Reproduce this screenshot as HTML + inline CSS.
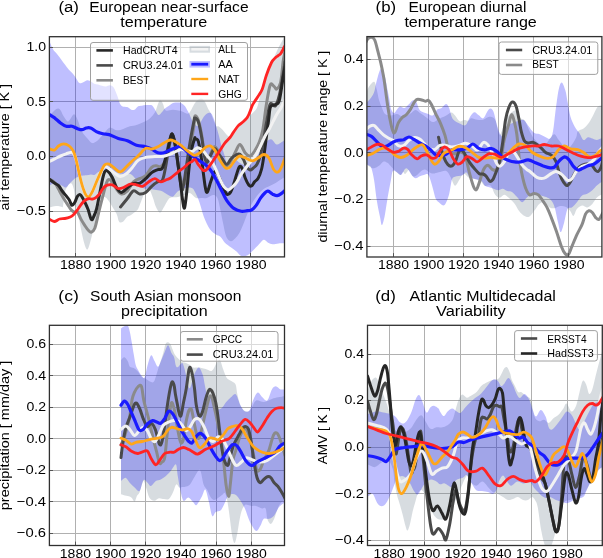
<!DOCTYPE html>
<html><head><meta charset="utf-8"><style>
html,body{margin:0;padding:0;background:#fff;width:603px;height:558px;overflow:hidden}
svg{display:block}
text{filter:grayscale(1)}
</style></head><body>
<svg width="603" height="558" viewBox="0 0 603 558" font-family='"Liberation Sans", sans-serif'><clipPath id="clipa"><rect x="49.4" y="36.7" width="235.1" height="219.9"/></clipPath>
<path d="M75.5 36.7V256.6M110.5 36.7V256.6M145.5 36.7V256.6M180.5 36.7V256.6M215.5 36.7V256.6M250.5 36.7V256.6M49.4 47.5H284.5M49.4 101.5H284.5M49.4 156.5H284.5M49.4 211.5H284.5" stroke="#b0b0b0" stroke-width="1" fill="none"/>
<g clip-path="url(#clipa)">
<path d="M49.0 116.0C49.5 115.5 51.0 114.0 52.0 113.0C53.0 112.0 54.0 110.7 55.0 110.0C56.0 109.3 57.3 108.4 58.3 108.6C59.3 108.8 60.2 109.8 61.0 111.0C61.8 112.2 62.2 114.0 63.3 115.8C64.4 117.5 66.5 121.0 67.7 121.5C68.9 122.0 69.4 119.9 70.5 118.7C71.6 117.5 72.9 114.1 74.1 114.3C75.3 114.5 76.4 117.1 77.7 120.0C79.0 122.9 80.3 128.5 82.0 131.6C83.7 134.7 86.0 136.8 87.7 138.7C89.4 140.6 90.6 142.5 92.0 143.0C93.4 143.5 94.9 142.5 96.3 141.6C97.7 140.7 99.1 138.9 100.6 137.3C102.0 135.8 103.4 133.9 105.0 132.3C106.6 130.7 108.1 127.9 110.0 127.6C111.9 127.3 114.4 130.1 116.6 130.3C118.8 130.5 121.1 129.7 123.3 129.0C125.5 128.3 127.7 127.0 129.9 126.3C132.1 125.6 134.3 125.7 136.5 125.0C138.7 124.3 141.0 123.4 143.2 122.3C145.4 121.2 147.8 120.1 149.8 118.4C151.8 116.7 153.7 114.4 155.1 112.0C156.5 109.6 157.1 106.0 158.0 104.0C158.9 102.0 159.6 99.8 160.4 99.8C161.2 99.8 162.1 102.2 163.0 104.0C163.9 105.8 164.0 109.4 165.7 110.4C167.4 111.4 170.4 109.7 173.0 109.8C175.6 109.9 178.5 110.3 181.0 111.0C183.5 111.7 186.2 113.8 187.8 113.8C189.4 113.8 189.2 113.1 190.5 111.1C191.8 109.1 194.1 103.8 195.9 101.7C197.7 99.6 199.7 98.3 201.3 98.4C202.9 98.5 204.2 100.7 205.3 102.4C206.4 104.1 207.1 106.6 208.0 108.4C208.9 110.2 209.8 111.2 210.7 113.1C211.6 115.0 212.5 117.9 213.4 120.0C214.3 122.1 215.2 124.8 216.1 125.9C217.0 127.0 217.7 125.9 218.8 126.6C219.9 127.3 221.6 128.8 222.8 130.0C224.0 131.2 224.8 132.8 226.0 134.0C227.2 135.2 228.7 137.0 230.0 137.0C231.3 137.0 232.7 135.5 234.0 134.0C235.3 132.5 236.6 129.7 238.0 128.0C239.4 126.3 241.1 125.3 242.6 124.0C244.1 122.7 245.7 121.5 247.0 120.0C248.3 118.5 249.4 116.4 250.6 115.0C251.8 113.6 253.1 112.7 254.2 111.5C255.2 110.3 256.1 109.6 256.9 108.0C257.6 106.4 258.0 104.7 258.7 102.0C259.4 99.3 259.9 96.1 261.2 92.0C262.5 87.9 264.6 81.9 266.3 77.3C268.0 72.7 269.8 68.7 271.5 64.4C273.2 60.1 275.2 54.9 276.7 51.5C278.2 48.1 279.2 46.4 280.6 43.8C282.0 41.2 284.3 37.3 285.0 36.0L285.0 177.0C284.2 177.5 281.6 179.0 280.0 180.0C278.4 181.0 277.3 182.0 275.6 183.0C273.9 184.0 271.6 185.0 269.6 186.0C267.6 187.0 265.7 187.5 263.7 189.0C261.7 190.5 259.7 192.4 257.7 194.9C255.7 197.4 253.4 200.7 251.7 203.9C249.9 207.1 248.4 211.3 247.2 214.3C246.0 217.3 245.5 218.8 244.3 221.8C243.1 224.8 241.3 229.5 239.8 232.2C238.3 234.9 236.8 236.7 235.3 238.2C233.8 239.7 232.3 241.4 230.8 241.2C229.3 240.9 227.5 239.4 226.3 236.7C225.1 234.0 224.4 229.3 223.4 224.8C222.4 220.3 221.4 214.4 220.4 209.9C219.4 205.4 218.7 200.4 217.4 197.9C216.2 195.4 214.7 194.9 212.9 194.9C211.2 194.9 208.9 197.4 206.9 197.9C204.9 198.4 202.8 198.0 201.0 198.0C199.2 198.0 197.8 198.8 196.0 198.0C194.2 197.2 192.0 193.5 190.0 193.0C188.0 192.5 186.0 194.3 184.0 195.0C182.0 195.7 180.2 196.6 178.0 197.0C175.8 197.4 172.7 197.0 171.0 197.5C169.3 198.0 169.2 198.4 168.0 200.0C166.8 201.6 165.3 204.9 164.0 207.0C162.7 209.1 161.3 212.6 160.0 212.6C158.7 212.6 157.2 209.4 156.0 207.0C154.8 204.6 154.1 200.8 153.0 198.0C151.9 195.2 150.8 191.2 149.6 190.0C148.4 188.8 147.1 189.1 145.7 191.0C144.3 192.9 142.4 198.5 141.1 201.5C139.8 204.5 139.1 207.2 138.1 209.0C137.1 210.8 136.2 211.0 135.0 212.0C133.8 213.0 132.3 214.2 131.0 215.0C129.7 215.8 128.3 215.9 127.0 217.0C125.7 218.1 124.6 220.7 123.3 221.5C122.0 222.3 120.3 223.1 119.3 222.0C118.2 220.9 117.9 217.2 117.0 215.0C116.1 212.8 115.0 211.3 113.7 209.1C112.4 206.8 110.6 203.5 109.1 201.5C107.6 199.5 106.1 197.2 104.6 197.0C103.1 196.8 101.1 197.5 100.0 200.0C98.9 202.5 99.0 208.2 98.1 212.2C97.2 216.2 95.9 220.0 94.8 224.2C93.7 228.4 92.4 233.7 91.4 237.4C90.4 241.2 89.6 244.7 88.8 246.7C88.0 248.7 87.6 250.1 86.8 249.4C86.0 248.7 85.1 246.2 84.1 242.7C83.1 239.2 81.8 233.0 80.8 228.2C79.8 223.3 78.8 216.9 78.2 213.6C77.6 210.3 77.4 209.7 76.9 208.3C76.4 206.9 75.4 207.7 75.0 205.0C74.6 202.3 74.8 195.4 74.3 191.9C73.8 188.4 72.8 185.3 72.0 184.0C71.2 182.7 70.0 183.6 69.3 184.0C68.5 184.4 68.2 185.2 67.5 186.5C66.8 187.8 65.7 188.7 64.9 191.9C64.2 195.2 63.5 203.5 63.0 206.0C62.5 208.5 62.8 207.0 62.0 207.0C61.2 207.0 59.6 206.1 58.3 206.0C57.0 205.9 55.8 206.0 54.3 206.3C52.8 206.6 49.9 207.4 49.0 207.6Z" fill="#708090" fill-opacity="0.28"/>
<path d="M49.0 40.0C49.7 41.5 51.7 47.0 53.0 49.3C54.3 51.6 55.7 52.2 57.0 53.9C58.3 55.5 59.7 57.4 61.0 59.2C62.3 61.0 63.6 62.7 64.9 64.5C66.2 66.3 67.6 68.2 68.9 69.8C70.2 71.3 71.7 72.4 72.9 73.8C74.1 75.2 75.1 76.9 76.2 78.4C77.3 80.0 78.4 82.4 79.5 83.1C80.6 83.8 81.8 82.7 82.8 82.4C83.8 82.1 84.7 81.5 85.5 81.1C86.3 80.7 86.7 80.2 87.5 80.2C88.3 80.2 89.0 80.5 90.1 81.1C91.2 81.7 92.8 83.2 94.1 83.7C95.4 84.2 96.7 84.1 98.0 84.4C99.3 84.7 100.7 85.4 102.0 85.7C103.3 86.0 104.7 86.5 106.0 86.4C107.3 86.3 108.7 85.0 110.0 85.2C111.3 85.5 112.8 86.1 114.0 87.9C115.2 89.7 116.3 93.2 117.3 95.8C118.3 98.4 119.1 102.0 120.0 103.8C120.9 105.6 121.4 105.9 122.6 106.4C123.8 107.0 125.8 106.5 127.2 107.1C128.6 107.6 130.0 109.3 131.2 109.7C132.4 110.1 133.4 110.2 134.5 109.7C135.6 109.2 136.7 107.1 137.9 106.4C139.1 105.8 140.5 106.0 141.8 105.8C143.1 105.6 144.5 105.2 145.8 105.1C147.1 105.0 148.7 105.0 149.8 105.1C150.9 105.2 151.5 105.0 152.4 105.8C153.3 106.6 154.1 108.2 155.1 109.7C156.1 111.2 157.2 114.6 158.4 115.0C159.6 115.4 160.9 113.1 162.0 112.0C163.1 110.9 163.8 109.4 165.0 108.4C166.2 107.4 167.7 106.7 169.0 105.8C170.3 104.9 171.7 103.6 173.0 103.0C174.3 102.4 175.8 102.4 177.1 102.4C178.4 102.4 179.8 102.3 181.1 103.0C182.4 103.7 184.1 105.1 185.2 106.4C186.3 107.8 187.1 109.9 187.8 111.1C188.5 112.3 188.3 112.0 189.2 113.8C190.1 115.6 191.5 120.0 193.0 122.0C194.5 124.0 196.3 126.7 198.0 126.0C199.7 125.3 201.6 120.0 203.0 118.0C204.4 116.0 205.4 114.6 206.7 113.8C208.0 113.0 209.6 112.4 210.7 113.1C211.8 113.8 212.5 115.7 213.4 117.8C214.3 119.9 215.2 123.0 216.1 125.9C217.0 128.8 217.9 131.9 218.8 135.3C219.7 138.7 220.6 143.0 221.5 146.1C222.4 149.2 223.2 151.0 224.1 154.1C225.0 157.2 226.1 162.2 226.8 164.9C227.5 167.6 227.3 169.8 228.2 170.0C229.1 170.2 230.8 167.7 232.0 166.0C233.2 164.3 234.0 160.5 235.3 160.0C236.6 159.5 238.3 162.1 240.0 163.0C241.7 163.9 244.0 165.4 245.7 165.2C247.4 165.0 248.3 163.3 250.0 162.0C251.7 160.7 254.1 159.5 256.0 157.4C257.9 155.3 259.5 152.3 261.2 149.7C262.9 147.1 264.6 143.7 266.3 142.0C268.0 140.3 269.8 139.0 271.5 139.4C273.2 139.8 275.0 144.1 276.7 144.5C278.4 144.9 280.4 142.8 281.8 142.0C283.2 141.2 284.5 139.8 285.0 139.4L285.0 243.4C283.9 243.4 280.7 243.3 278.6 243.4C276.5 243.5 274.4 244.3 272.6 244.2C270.9 244.1 269.6 243.4 268.1 242.7C266.6 241.9 265.4 239.2 263.7 239.7C262.0 240.2 259.7 243.7 257.7 245.7C255.7 247.7 253.4 250.1 251.7 251.7C249.9 253.3 248.9 254.7 247.2 255.4C245.5 256.1 243.0 256.7 241.3 256.1C239.6 255.5 238.6 253.2 236.8 251.7C235.1 250.2 232.8 248.7 230.8 247.2C228.8 245.7 226.6 244.4 224.9 242.7C223.2 240.9 221.9 238.1 220.4 236.7C218.9 235.3 217.7 235.7 215.9 234.5C214.2 233.3 211.9 232.2 209.9 229.3C207.9 226.4 205.7 221.8 204.0 217.3C202.3 212.8 201.0 206.6 199.5 202.4C198.0 198.2 196.3 194.4 195.0 192.0C193.7 189.6 193.4 188.7 191.7 188.0C190.0 187.3 186.9 187.4 184.6 188.0C182.2 188.6 179.6 190.1 177.6 191.6C175.6 193.1 174.4 196.5 172.4 196.8C170.4 197.1 167.3 194.3 165.4 193.3C163.5 192.3 162.7 191.4 160.9 190.8C159.1 190.2 156.8 190.1 154.8 189.8C152.8 189.5 150.7 189.1 148.7 188.8C146.7 188.5 144.6 189.2 142.6 187.8C140.6 186.4 138.5 182.5 136.5 180.2C134.5 177.9 132.7 175.1 130.4 174.1C128.1 173.1 125.3 174.3 122.8 174.1C120.3 173.8 117.4 173.0 115.2 172.6C113.0 172.2 111.1 171.9 109.5 171.6C107.9 171.3 106.8 170.9 105.5 170.9C104.2 170.9 102.7 171.4 101.4 171.6C100.2 171.8 99.2 171.6 98.0 172.2C96.8 172.8 95.6 174.5 94.4 174.9C93.2 175.3 92.1 174.3 90.8 174.4C89.5 174.5 87.9 175.1 86.4 175.3C84.9 175.5 83.6 175.4 81.9 175.8C80.2 176.2 78.0 176.8 76.5 177.5C75.0 178.2 74.1 179.1 72.9 180.2C71.7 181.2 70.5 182.6 69.3 183.8C68.1 185.0 67.3 187.2 65.8 187.4C64.3 187.6 62.2 185.4 60.4 184.7C58.6 183.9 56.9 182.7 55.0 182.9C53.1 183.1 50.0 185.2 49.0 185.7Z" fill="#0000ff" fill-opacity="0.25"/>
</g>
<g clip-path="url(#clipa)" fill="none" stroke-linejoin="round" stroke-linecap="round">
<path d="M49.0 179.0C50.0 179.7 53.1 180.7 55.0 183.0C56.9 185.3 58.9 190.1 60.4 192.8C61.9 195.5 62.8 197.1 64.0 199.0C65.2 200.9 66.3 202.6 67.5 204.4C68.7 206.2 70.0 208.5 71.1 209.8C72.2 211.1 73.0 211.6 74.0 212.0C75.0 212.4 76.3 210.8 77.4 212.0C78.5 213.2 79.6 216.7 80.8 218.9C82.0 221.2 83.5 223.5 84.8 225.5C86.1 227.5 87.7 229.7 88.8 230.8C89.9 231.9 90.4 232.5 91.4 232.1C92.4 231.7 93.7 231.0 94.8 228.2C95.9 225.3 97.0 219.6 98.1 215.0C99.2 210.4 100.4 205.3 101.6 200.8C102.8 196.3 103.9 191.5 105.0 188.0C106.1 184.5 106.8 181.0 108.0 180.0C109.2 179.0 110.8 180.2 112.2 181.8C113.7 183.4 115.2 187.4 116.7 189.4C118.2 191.4 119.5 193.7 121.3 193.9C123.1 194.2 125.4 192.9 127.4 190.9C129.4 188.9 131.5 183.8 133.5 181.8C135.5 179.8 137.6 179.7 139.6 178.7C141.6 177.7 143.7 177.6 145.7 175.7C147.7 173.8 149.9 169.0 151.7 167.3C153.5 165.7 154.8 165.9 156.3 165.8C157.8 165.7 159.4 167.4 160.9 166.5C162.4 165.6 164.1 164.2 165.4 160.4C166.7 156.6 167.4 147.8 168.5 143.7C169.6 139.6 170.8 134.9 172.0 136.0C173.2 137.1 174.7 143.5 176.0 150.0C177.3 156.5 178.8 169.2 180.0 175.0C181.2 180.8 182.0 184.5 183.0 185.0C184.0 185.5 184.8 183.8 186.0 178.0C187.2 172.2 188.7 158.8 190.0 150.0C191.3 141.2 193.2 130.7 194.0 125.0C194.8 119.3 194.3 116.8 195.0 116.0C195.7 115.2 197.3 117.0 198.4 120.3C199.5 123.6 200.8 130.0 201.8 135.7C202.8 141.4 203.6 150.2 204.4 154.4C205.2 158.7 205.9 161.2 206.9 161.2C207.9 161.2 209.0 156.8 210.3 154.4C211.6 152.0 213.3 147.3 214.6 146.7C215.9 146.1 216.7 148.6 218.0 151.0C219.3 153.4 220.9 158.6 222.3 161.2C223.7 163.8 225.1 166.3 226.5 166.3C227.9 166.3 229.2 163.8 230.8 161.2C232.4 158.6 234.4 153.8 235.9 151.0C237.4 148.2 238.4 144.2 240.0 144.5C241.6 144.8 243.6 151.1 245.3 153.0C247.0 154.9 248.4 156.3 250.0 156.0C251.6 155.7 253.0 153.3 254.6 151.0C256.1 148.7 257.9 145.5 259.3 142.0C260.7 138.5 261.6 136.2 262.8 130.0C264.0 123.8 265.1 112.5 266.3 105.0C267.5 97.5 268.9 88.2 270.2 85.1C271.5 82.0 273.0 85.8 274.1 86.4C275.2 87.1 275.6 89.7 276.7 89.0C277.8 88.3 279.5 87.0 280.6 82.5C281.7 78.0 282.4 67.0 283.1 61.8C283.8 56.6 284.7 53.2 285.0 51.5" stroke="#8a8a8a" stroke-width="3.0"/>
<path d="M120.5 206.9C121.7 205.5 125.2 201.2 127.4 198.5C129.6 195.8 131.5 191.7 133.5 190.9C135.5 190.1 137.6 193.7 139.6 193.9C141.6 194.2 143.7 193.7 145.7 192.4C147.7 191.1 149.7 188.1 151.7 186.3C153.7 184.5 156.0 182.8 157.8 181.8C159.6 180.8 161.1 182.5 162.4 180.2C163.7 177.9 164.4 173.1 165.4 168.0C166.4 162.9 167.7 154.1 168.5 149.8C169.3 145.5 169.4 144.8 170.0 142.2C170.6 139.6 171.3 133.7 172.2 134.0C173.0 134.3 174.0 137.9 175.1 144.0C176.2 150.1 177.7 162.8 178.8 170.3C179.9 177.8 180.9 186.6 181.7 189.1C182.5 191.6 182.7 189.1 183.5 185.3C184.3 181.5 185.3 173.7 186.4 166.5C187.5 159.3 188.8 149.5 190.1 142.0C191.3 134.5 193.1 125.3 193.9 121.3C194.7 117.3 194.2 117.9 195.0 118.0C195.8 118.1 197.3 118.7 198.4 122.0C199.5 125.3 200.8 132.3 201.8 138.0C202.8 143.7 203.6 151.9 204.4 156.0C205.2 160.1 205.9 162.5 206.9 162.5C207.9 162.5 209.0 158.3 210.3 156.0C211.6 153.7 213.3 149.0 214.6 148.5C215.9 148.0 216.8 151.3 218.0 153.0C219.2 154.7 220.6 156.6 222.0 158.5C223.4 160.4 225.1 164.3 226.7 164.3C228.2 164.3 229.8 160.1 231.3 158.5C232.9 156.9 234.6 155.7 236.0 155.0C237.4 154.3 238.7 153.6 240.0 154.4C241.3 155.2 242.5 157.6 243.6 159.6C244.7 161.6 245.4 164.8 246.5 166.6C247.6 168.3 248.8 169.9 250.0 170.1C251.2 170.3 252.3 168.8 253.5 167.8C254.7 166.8 255.8 166.4 257.0 164.3C258.2 162.2 259.4 158.9 260.5 155.0C261.6 151.1 262.5 145.7 263.4 141.0C264.3 136.3 265.0 131.0 265.7 127.0C266.4 123.0 266.8 120.8 267.5 117.0C268.2 113.2 268.9 105.9 270.2 104.0C271.5 102.1 273.9 107.2 275.4 105.8C276.9 104.4 278.0 100.6 279.3 95.4C280.6 90.2 282.2 80.4 283.1 74.8C284.1 69.2 284.7 64.0 285.0 61.8" stroke="#4a4a4a" stroke-width="3.0"/>
<path d="M49.0 179.0C49.9 179.7 52.8 181.9 54.4 183.0C56.0 184.1 57.3 184.3 58.6 185.6C59.9 186.9 60.9 189.2 62.2 191.0C63.5 192.8 65.4 194.9 66.6 196.4C67.8 197.9 68.4 198.5 69.3 200.0C70.2 201.5 71.1 204.9 72.0 205.3C72.9 205.7 73.8 204.1 74.7 202.6C75.6 201.1 76.5 197.7 77.4 196.4C78.3 195.1 79.2 194.3 80.1 194.6C81.0 194.9 81.9 196.7 82.8 198.2C83.7 199.7 84.6 201.6 85.5 203.5C86.4 205.4 87.2 207.1 88.2 209.8C89.2 212.5 90.4 218.5 91.4 219.5C92.4 220.5 93.1 217.9 94.0 216.0C94.9 214.1 95.8 211.8 96.7 208.3C97.6 204.8 98.4 199.8 99.4 195.0C100.4 190.2 101.6 183.2 102.5 179.3C103.4 175.5 103.8 173.3 104.6 171.9C105.4 170.5 106.3 170.2 107.6 171.1C108.9 172.0 110.7 174.4 112.2 177.2C113.7 180.0 115.2 185.3 116.7 187.8C118.2 190.3 119.5 192.4 121.3 192.4C123.1 192.4 125.4 189.3 127.4 187.8C129.4 186.3 131.5 184.1 133.5 183.3C135.5 182.6 137.6 184.1 139.6 183.3C141.6 182.5 143.7 180.5 145.7 178.7C147.7 176.9 149.7 174.1 151.7 172.6C153.7 171.1 156.0 170.4 157.8 169.6C159.6 168.8 160.9 170.8 162.4 168.0C163.9 165.2 165.7 157.6 167.0 152.8C168.3 148.0 169.1 142.2 170.0 139.1C170.9 136.0 171.4 133.2 172.2 134.0C173.0 134.8 173.9 138.0 175.0 144.0C176.1 150.0 177.5 160.7 178.8 170.0C180.1 179.3 181.7 193.7 182.6 200.0C183.5 206.3 183.9 208.8 184.5 208.0C185.1 207.2 185.6 201.9 186.4 195.0C187.2 188.1 188.3 174.4 189.2 166.5C190.1 158.6 191.1 152.4 192.0 147.7C192.9 143.0 194.3 139.6 194.8 138.2C195.3 136.8 194.4 138.4 195.0 139.0C195.6 139.6 197.3 137.9 198.4 141.6C199.5 145.3 200.7 153.7 201.8 161.2C202.9 168.7 204.3 181.7 205.2 186.8C206.1 192.0 206.4 193.0 207.3 192.1C208.2 191.2 209.6 184.9 210.8 181.6C212.0 178.3 213.3 173.9 214.3 172.3C215.3 170.8 215.6 171.1 216.6 172.3C217.6 173.5 218.9 176.6 220.1 179.3C221.3 182.0 222.4 186.1 223.6 188.6C224.8 191.1 225.9 193.8 227.1 194.4C228.3 195.0 229.4 194.0 230.6 192.1C231.8 190.2 233.1 185.7 234.1 182.8C235.1 179.9 235.6 177.3 236.5 174.6C237.4 171.9 238.5 167.5 239.5 166.6C240.5 165.7 241.4 166.9 242.4 168.9C243.4 170.9 244.2 175.6 245.3 178.3C246.4 181.0 247.8 183.7 248.8 185.0C249.8 186.3 250.5 186.5 251.5 186.0C252.5 185.5 253.5 183.1 254.6 181.8C255.7 180.5 256.9 180.4 258.1 178.3C259.3 176.2 260.6 172.9 261.6 169.0C262.6 165.1 263.2 160.2 264.0 155.0C264.8 149.8 265.5 143.3 266.3 137.5C267.1 131.7 267.9 125.1 268.6 120.0C269.3 114.9 269.4 109.6 270.5 107.0C271.6 104.4 273.9 105.6 275.4 104.5C276.9 103.4 278.0 105.1 279.3 100.6C280.6 96.1 282.2 82.9 283.1 77.3C284.1 71.7 284.7 68.7 285.0 67.0" stroke="#262626" stroke-width="3.0"/>
<path d="M49.0 161.7C50.0 161.2 52.8 159.8 54.7 158.8C56.6 157.9 58.6 156.8 60.5 156.0C62.4 155.2 64.5 154.4 66.2 153.8C67.9 153.2 69.3 152.5 70.5 152.4C71.7 152.3 72.5 152.1 73.4 153.2C74.3 154.3 75.0 155.9 75.9 158.8C76.8 161.8 77.6 166.6 78.6 170.9C79.6 175.2 80.8 180.6 81.9 184.4C83.0 188.2 84.2 191.7 85.3 193.8C86.4 195.9 87.4 197.0 88.5 196.8C89.6 196.6 90.8 194.7 92.0 192.4C93.2 190.1 94.7 186.1 96.0 183.0C97.3 179.9 98.8 176.3 100.1 173.6C101.4 170.9 103.1 168.2 104.1 167.0C105.1 165.8 104.8 165.8 106.1 166.5C107.4 167.2 109.9 169.4 112.2 171.1C114.5 172.8 117.5 175.9 119.8 176.4C122.1 176.9 123.9 175.5 125.9 174.1C127.9 172.7 130.0 170.3 132.0 168.0C134.0 165.7 135.8 162.2 138.1 160.4C140.4 158.6 142.9 158.0 145.7 157.4C148.5 156.8 151.8 156.8 154.8 156.6C157.8 156.4 161.3 156.6 163.9 156.2C166.5 155.8 168.4 154.9 170.4 154.1C172.4 153.3 174.0 152.3 175.8 151.5C177.6 150.7 179.5 149.6 181.1 149.4C182.7 149.2 183.4 149.8 185.2 150.1C187.0 150.4 190.3 151.6 191.9 151.5C193.5 151.4 194.0 149.9 195.0 149.3C196.0 148.7 196.7 147.7 198.0 147.8C199.3 148.0 201.1 148.8 202.7 150.2C204.2 151.6 205.8 154.1 207.3 156.0C208.9 157.9 210.4 159.3 212.0 161.8C213.6 164.3 215.2 168.2 216.6 171.1C217.9 174.0 218.9 176.8 220.1 179.3C221.3 181.8 222.2 184.6 223.6 186.3C225.0 188.1 226.9 189.6 228.3 189.8C229.7 190.0 230.6 188.4 231.8 187.4C233.0 186.4 234.3 185.2 235.3 184.0C236.3 182.8 237.1 181.5 238.0 180.0C238.9 178.5 239.1 177.4 240.7 175.0C242.3 172.6 245.3 168.5 247.6 165.5C249.9 162.5 252.4 160.2 254.6 157.0C256.8 153.8 258.8 149.5 260.5 146.0C262.2 142.5 263.6 139.0 265.1 136.0C266.7 133.0 267.9 131.5 269.8 128.0C271.7 124.5 274.6 118.3 276.4 115.0C278.2 111.7 279.2 110.9 280.6 108.4C282.0 105.9 284.3 101.4 285.0 100.0" stroke="#f2f2f2" stroke-width="3.0"/>
<path d="M49.0 114.3C50.0 114.9 52.8 116.5 54.7 117.9C56.6 119.4 58.6 121.6 60.5 123.0C62.4 124.4 64.3 125.8 66.2 126.3C68.1 126.8 70.1 125.9 72.0 126.3C73.9 126.7 76.0 128.1 77.7 128.7C79.4 129.3 80.6 129.8 82.0 129.7C83.4 129.6 84.9 128.3 86.3 128.0C87.7 127.7 88.9 127.4 90.6 128.0C92.3 128.6 94.7 130.8 96.3 131.6C97.9 132.4 98.7 132.6 100.0 133.0C101.3 133.4 102.5 133.7 104.0 134.0C105.5 134.3 106.7 133.9 109.1 134.6C111.5 135.3 115.2 137.4 118.3 138.4C121.3 139.4 124.4 139.6 127.4 140.7C130.4 141.8 133.4 144.2 136.5 145.2C139.6 146.2 143.2 146.1 145.7 146.7C148.2 147.3 149.7 148.0 151.7 149.0C153.7 150.0 155.8 152.2 157.8 152.8C159.8 153.4 161.9 153.3 163.9 152.8C165.9 152.3 167.8 150.9 170.0 150.0C172.2 149.1 175.2 147.8 177.0 147.2C178.8 146.6 179.1 145.7 181.1 146.7C183.1 147.7 186.8 151.5 189.1 153.3C191.4 155.2 193.2 156.5 195.0 157.8C196.8 159.1 198.4 160.1 200.1 161.2C201.8 162.3 203.5 163.2 205.2 164.6C206.9 166.0 208.6 167.4 210.3 169.7C212.0 172.0 213.7 175.2 215.4 178.3C217.1 181.4 218.9 185.1 220.6 188.5C222.3 191.9 224.3 196.2 225.7 198.7C227.1 201.2 227.7 201.9 229.0 203.5C230.3 205.1 231.8 207.1 233.8 208.4C235.9 209.7 239.1 210.9 241.3 211.3C243.5 211.7 245.5 210.8 247.2 210.6C248.9 210.4 250.2 210.8 251.7 209.9C253.2 209.0 254.7 207.4 256.2 205.4C257.7 203.4 259.2 200.0 260.7 197.9C262.2 195.8 263.9 193.8 265.1 192.7C266.3 191.6 266.9 190.9 268.1 191.2C269.4 191.4 271.1 193.4 272.6 194.2C274.1 194.9 275.6 195.8 277.1 195.7C278.6 195.6 280.3 194.3 281.6 193.4C282.9 192.5 284.4 190.9 285.0 190.4" stroke="#1a1aff" stroke-width="3.2"/>
<path d="M49.0 148.7C49.9 148.9 52.8 150.5 54.4 150.1C56.0 149.7 56.8 147.1 58.4 146.0C60.0 144.9 62.0 143.8 63.8 143.8C65.6 143.8 67.6 144.8 69.2 146.0C70.8 147.2 72.1 148.7 73.2 150.8C74.3 152.9 75.0 155.5 75.9 158.8C76.8 162.2 77.6 166.6 78.6 170.9C79.6 175.2 80.8 180.6 81.9 184.4C83.0 188.2 84.2 191.7 85.3 193.8C86.4 195.9 87.4 197.0 88.5 196.8C89.6 196.6 90.8 194.7 92.0 192.4C93.2 190.1 94.7 186.1 96.0 183.0C97.3 179.9 98.7 176.6 100.1 173.6C101.5 170.6 103.1 166.6 104.6 165.0C106.1 163.4 107.3 163.6 109.1 164.2C110.9 164.8 113.3 167.5 115.2 168.8C117.1 170.1 118.7 172.2 120.5 171.9C122.3 171.7 124.0 169.1 125.9 167.3C127.8 165.5 130.0 163.1 132.0 161.2C134.0 159.3 135.8 158.1 138.1 155.9C140.4 153.8 143.4 149.5 145.7 148.3C148.0 147.2 149.7 149.3 151.7 149.0C153.7 148.7 155.8 147.7 157.8 146.7C159.8 145.7 161.8 144.0 163.9 142.9C166.0 141.8 168.4 140.2 170.4 140.0C172.4 139.8 174.0 141.1 175.8 142.0C177.6 142.9 179.3 144.1 181.1 145.4C182.9 146.8 184.7 148.7 186.5 150.1C188.3 151.5 190.5 153.2 191.9 154.1C193.3 155.0 193.6 155.5 195.0 155.3C196.4 155.1 198.4 154.0 200.1 152.7C201.8 151.4 203.5 148.7 205.2 147.6C206.9 146.5 208.6 145.3 210.3 145.9C212.0 146.5 213.7 148.4 215.4 151.0C217.1 153.6 218.9 158.4 220.6 161.2C222.3 164.0 224.1 167.0 225.7 168.0C227.2 169.0 228.5 168.3 229.9 167.2C231.3 166.1 232.6 163.0 234.2 161.2C235.8 159.3 237.5 156.7 239.3 156.1C241.1 155.5 242.8 157.0 245.0 157.8C247.2 158.6 250.1 160.8 252.3 160.8C254.5 160.8 256.1 159.1 258.0 158.0C259.9 156.9 262.0 154.5 263.8 154.5C265.6 154.5 267.2 155.4 268.9 158.0C270.6 160.6 272.3 167.8 274.0 170.0C275.7 172.2 277.5 173.0 279.3 171.0C281.1 169.0 284.1 160.2 285.0 158.0" stroke="#ffa619" stroke-width="2.8"/>
<path d="M49.0 219.0C49.9 219.4 52.5 221.5 54.3 221.5C56.1 221.5 57.8 219.5 59.6 219.0C61.4 218.5 63.1 218.8 64.9 218.5C66.7 218.2 68.8 217.6 70.2 217.0C71.6 216.4 72.0 216.2 73.2 215.0C74.4 213.8 76.0 211.7 77.4 209.8C78.9 207.9 80.6 205.1 81.9 203.5C83.2 201.9 84.3 200.8 85.5 200.0C86.7 199.2 87.8 198.8 89.0 198.6C90.2 198.4 91.4 199.2 92.6 199.0C93.8 198.8 95.0 198.2 96.2 197.3C97.4 196.4 98.8 195.0 99.8 193.7C100.8 192.3 101.5 190.5 102.5 189.2C103.5 187.8 104.5 186.3 106.1 185.6C107.7 184.9 110.2 184.3 112.2 184.8C114.2 185.3 116.3 188.2 118.3 188.6C120.3 189.0 122.4 187.9 124.4 187.1C126.4 186.3 128.4 184.4 130.4 184.0C132.4 183.6 134.5 184.4 136.5 184.8C138.5 185.2 140.6 186.8 142.6 186.3C144.6 185.8 146.7 183.1 148.7 181.8C150.7 180.5 152.8 178.7 154.8 178.7C156.8 178.7 158.9 181.7 160.9 181.8C162.9 181.9 165.4 180.1 167.0 179.5C168.6 178.9 168.8 179.2 170.6 178.0C172.4 176.8 175.3 174.1 177.6 172.3C179.9 170.5 182.7 168.6 184.6 167.0C186.5 165.4 187.8 163.9 189.0 163.0C190.2 162.1 190.7 162.4 191.7 161.8C192.7 161.2 193.9 159.1 195.0 159.5C196.1 159.9 196.7 162.3 198.0 164.1C199.3 165.8 201.3 169.0 202.7 170.0C204.1 171.0 204.8 171.0 206.2 170.0C207.5 169.0 209.2 166.2 210.8 164.1C212.4 161.9 213.9 159.4 215.5 157.1C217.1 154.8 218.5 152.5 220.1 150.2C221.7 147.9 223.2 145.3 224.8 143.2C226.5 141.1 228.5 139.3 230.0 137.5C231.5 135.7 232.2 134.1 233.6 132.2C234.9 130.3 236.6 127.6 238.1 125.9C239.6 124.2 241.1 123.7 242.6 122.3C244.1 120.9 245.8 119.4 247.0 117.8C248.2 116.2 248.8 114.5 249.7 112.4C250.6 110.3 251.5 107.1 252.4 105.2C253.3 103.3 254.1 102.4 255.1 100.8C256.1 99.2 257.5 97.4 258.7 95.4C259.9 93.4 261.0 92.3 262.3 89.0C263.6 85.7 264.8 79.9 266.3 75.5C267.8 71.1 270.0 65.5 271.5 62.5C273.0 59.5 274.3 58.9 275.4 57.8C276.5 56.7 277.1 56.5 278.0 55.8C278.9 55.1 279.8 54.7 280.5 53.8C281.2 52.9 281.9 51.7 282.5 50.5C283.1 49.3 283.8 47.6 284.3 46.8C284.8 46.0 285.3 45.7 285.5 45.5" stroke="#ff2424" stroke-width="2.8"/>
</g>
<path d="M75.5 256.6v-3.6M110.5 256.6v-3.6M145.5 256.6v-3.6M180.5 256.6v-3.6M215.5 256.6v-3.6M250.5 256.6v-3.6M49.4 47.5h3.6M49.4 101.5h3.6M49.4 156.5h3.6M49.4 211.5h3.6" stroke="#555" stroke-width="1" fill="none"/>
<rect x="49.4" y="36.7" width="235.1" height="220.2" fill="none" stroke="#303030" stroke-width="1.3"/>
<text x="46.0" y="50.9" font-size="13.4" text-anchor="end" fill="#000" textLength="19.6" lengthAdjust="spacingAndGlyphs">1.0</text>
<text x="46.0" y="105.5" font-size="13.4" text-anchor="end" fill="#000" textLength="19.6" lengthAdjust="spacingAndGlyphs">0.5</text>
<text x="46.0" y="160.2" font-size="13.4" text-anchor="end" fill="#000" textLength="19.6" lengthAdjust="spacingAndGlyphs">0.0</text>
<text x="46.0" y="214.8" font-size="13.4" text-anchor="end" fill="#000" textLength="29.2" lengthAdjust="spacingAndGlyphs">−0.5</text>
<text x="75.6" y="269.3" font-size="13.7" text-anchor="middle" fill="#000" textLength="31.2" lengthAdjust="spacingAndGlyphs">1880</text>
<text x="110.7" y="269.3" font-size="13.7" text-anchor="middle" fill="#000" textLength="31.2" lengthAdjust="spacingAndGlyphs">1900</text>
<text x="145.7" y="269.3" font-size="13.7" text-anchor="middle" fill="#000" textLength="31.2" lengthAdjust="spacingAndGlyphs">1920</text>
<text x="180.8" y="269.3" font-size="13.7" text-anchor="middle" fill="#000" textLength="31.2" lengthAdjust="spacingAndGlyphs">1940</text>
<text x="215.8" y="269.3" font-size="13.7" text-anchor="middle" fill="#000" textLength="31.2" lengthAdjust="spacingAndGlyphs">1960</text>
<text x="250.9" y="269.3" font-size="13.7" text-anchor="middle" fill="#000" textLength="31.2" lengthAdjust="spacingAndGlyphs">1980</text>
<clipPath id="clipb"><rect x="366.9" y="36.6" width="235.0" height="220.1"/></clipPath>
<path d="M393.5 36.6V256.7M428.5 36.6V256.7M463.5 36.6V256.7M498.5 36.6V256.7M533.5 36.6V256.7M568.5 36.6V256.7M366.9 59.5H601.9M366.9 106.5H601.9M366.9 152.5H601.9M366.9 199.5H601.9M366.9 246.5H601.9" stroke="#b0b0b0" stroke-width="1" fill="none"/>
<g clip-path="url(#clipb)">
<path d="M366.0 95.0C366.4 93.7 367.3 89.3 368.7 87.1C370.1 84.9 372.8 81.2 374.1 81.7C375.5 82.2 376.0 86.8 376.8 89.8C377.6 92.8 378.1 97.0 379.0 100.0C379.9 103.0 381.0 105.7 382.0 108.0C383.0 110.3 383.5 112.7 385.0 113.9C386.5 115.1 389.0 115.4 391.0 115.4C393.0 115.4 395.3 113.8 397.0 113.9C398.7 114.0 399.7 115.8 401.4 116.1C403.1 116.3 405.6 116.0 407.4 115.4C409.1 114.8 410.5 113.3 411.9 112.4C413.3 111.5 414.4 110.1 415.6 110.1C416.8 110.1 417.9 111.5 419.3 112.4C420.7 113.3 422.3 114.3 423.8 115.4C425.3 116.5 426.8 118.0 428.3 119.1C429.8 120.2 431.3 122.0 432.8 122.1C434.3 122.2 435.7 120.7 437.2 119.9C438.7 119.2 440.2 118.3 441.7 117.6C443.2 116.8 444.6 116.3 446.2 115.4C447.8 114.5 449.9 112.4 451.4 112.4C452.9 112.4 453.7 113.9 455.1 115.4C456.5 116.9 458.1 120.5 459.6 121.3C461.1 122.0 462.6 120.0 464.1 119.9C465.6 119.8 467.4 120.9 468.6 120.6C469.8 120.3 469.9 118.4 471.3 118.3C472.8 118.2 475.3 119.5 477.3 119.8C479.3 120.0 481.3 120.3 483.3 119.8C485.3 119.3 487.3 116.8 489.3 116.8C491.3 116.8 493.5 116.8 495.2 119.8C496.9 122.8 497.9 134.7 499.7 134.7C501.4 134.7 503.7 123.5 505.7 119.8C507.7 116.1 509.9 113.8 511.6 112.3C513.3 110.8 514.6 109.8 516.1 110.8C517.6 111.8 519.1 116.6 520.6 118.3C522.1 120.0 523.6 118.8 525.1 121.0C526.6 123.2 528.1 128.4 529.6 131.3C531.1 134.2 532.5 136.7 534.0 138.6C535.5 140.5 536.7 141.8 538.4 143.0C540.1 144.2 542.3 146.6 544.2 145.9C546.1 145.2 548.3 140.6 550.0 138.6C551.7 136.6 552.9 133.9 554.4 134.2C555.9 134.4 557.3 138.1 558.8 140.1C560.3 142.1 561.7 144.4 563.2 145.9C564.7 147.4 566.1 149.0 567.6 148.8C569.1 148.6 570.5 146.4 572.0 144.5C573.5 142.6 575.3 139.4 576.3 137.2C577.3 135.0 576.6 132.8 577.8 131.3C579.0 129.8 581.9 129.6 583.6 128.4C585.3 127.2 586.5 126.0 588.0 124.0C589.5 122.0 590.9 119.4 592.4 116.7C593.9 114.0 595.6 109.8 596.8 108.0C598.0 106.2 598.5 106.3 599.7 105.8C600.9 105.3 603.3 105.1 604.0 105.0L604.0 193.7C602.9 194.3 599.4 195.4 597.4 197.1C595.4 198.8 594.0 202.2 592.3 203.9C590.6 205.6 588.9 207.1 587.2 207.4C585.5 207.7 583.8 205.3 582.1 205.6C580.4 205.9 578.3 207.4 576.9 209.1C575.5 210.8 574.6 215.6 573.5 215.9C572.4 216.2 571.4 212.3 570.1 210.8C568.9 209.3 567.7 207.8 566.0 207.0C564.3 206.2 561.9 205.8 560.0 206.0C558.1 206.2 556.4 208.0 554.7 208.2C553.0 208.4 551.3 208.4 549.6 207.4C547.9 206.4 546.1 202.8 544.4 202.2C542.7 201.6 541.0 202.5 539.3 203.9C537.6 205.3 535.9 208.7 534.2 210.8C532.5 213.0 530.9 216.0 529.1 216.8C527.3 217.6 525.3 216.4 523.6 215.5C521.9 214.6 520.6 213.1 519.1 211.1C517.6 209.1 516.3 205.9 514.6 203.7C512.9 201.5 510.4 199.2 508.7 197.7C507.0 196.2 505.7 194.7 504.2 194.7C502.7 194.7 501.2 197.7 499.7 197.7C498.2 197.7 496.7 196.7 495.2 194.7C493.7 192.7 492.4 187.2 490.7 185.7C489.0 184.2 486.8 186.7 484.8 185.7C482.8 184.7 481.3 181.0 478.8 179.8C476.3 178.6 472.4 179.3 469.9 178.3C467.4 177.3 465.6 173.6 463.9 173.8C462.1 174.1 460.9 177.8 459.4 179.8C457.9 181.8 456.4 186.2 454.9 185.7C453.4 185.2 451.9 179.3 450.4 176.8C448.9 174.3 448.0 171.6 446.0 170.8C444.0 170.1 440.7 171.8 438.6 172.3C436.5 172.8 434.8 173.6 433.2 173.6C431.6 173.6 430.5 173.0 429.2 172.3C427.9 171.6 426.5 169.8 425.1 169.6C423.8 169.4 422.4 170.0 421.1 170.9C419.8 171.8 418.5 174.0 417.1 174.9C415.8 175.8 414.4 177.1 413.0 176.3C411.6 175.5 410.0 170.9 409.0 170.2C408.0 169.5 407.7 171.4 407.0 172.0C406.3 172.6 405.7 174.0 405.0 174.0C404.3 174.0 403.8 171.8 403.0 172.0C402.2 172.2 401.5 175.1 400.3 174.9C399.1 174.7 397.1 172.2 395.6 170.9C394.1 169.6 392.9 168.2 391.5 166.9C390.1 165.6 388.8 163.7 387.5 162.8C386.2 161.9 384.9 161.1 383.5 161.5C382.1 161.9 381.0 164.4 379.4 165.5C377.8 166.6 375.7 168.0 374.1 168.2C372.5 168.4 371.4 167.8 370.0 166.9C368.6 166.0 366.7 163.7 366.0 163.0Z" fill="#708090" fill-opacity="0.28"/>
<path d="M366.0 103.0C366.7 102.3 368.7 100.8 370.0 99.0C371.3 97.2 372.9 95.6 374.0 92.5C375.1 89.4 375.7 84.3 376.8 80.4C377.9 76.5 379.5 69.6 380.8 68.9C382.1 68.2 383.7 72.8 384.8 76.3C385.9 79.8 386.7 85.8 387.5 89.8C388.3 93.8 388.9 96.8 389.5 100.0C390.1 103.2 390.2 106.8 391.0 109.0C391.8 111.2 393.0 112.9 394.0 113.0C395.0 113.1 396.0 110.5 397.0 109.4C398.0 108.3 398.8 106.7 400.0 106.4C401.2 106.2 402.9 108.3 404.4 107.9C405.9 107.5 407.5 105.5 408.9 104.2C410.3 103.0 411.4 100.8 412.6 100.4C413.8 100.0 415.2 100.4 416.3 101.9C417.4 103.4 418.1 107.7 419.3 109.4C420.6 111.2 422.3 111.7 423.8 112.4C425.3 113.2 426.8 113.4 428.3 113.9C429.8 114.4 431.3 116.2 432.8 115.4C434.3 114.7 435.7 110.7 437.2 109.4C438.7 108.2 440.2 108.8 441.7 107.9C443.2 107.0 444.8 104.1 446.0 104.1C447.2 104.1 448.1 105.8 449.0 107.8C449.9 109.8 450.6 114.0 451.4 116.0C452.2 118.0 452.3 118.7 453.7 119.9C455.1 121.2 457.6 122.6 459.6 123.5C461.6 124.4 463.9 126.2 465.6 125.1C467.3 124.0 468.6 119.1 470.0 117.0C471.4 114.9 472.8 112.6 474.3 112.3C475.8 112.0 477.3 114.3 478.8 115.3C480.3 116.3 481.8 119.0 483.3 118.3C484.8 117.5 486.6 112.4 487.8 110.8C489.0 109.2 489.7 108.3 490.7 108.6C491.7 108.8 492.7 109.7 493.7 112.3C494.7 114.9 495.7 120.8 496.7 124.3C497.7 127.8 498.7 131.2 499.7 133.2C500.7 135.2 501.8 137.1 502.7 136.2C503.6 135.3 503.8 130.0 505.0 128.0C506.2 126.0 508.3 125.3 510.0 124.3C511.7 123.3 513.4 122.6 515.0 122.0C516.6 121.4 517.9 120.8 519.4 120.5C520.9 120.2 522.3 119.2 523.8 120.0C525.2 120.8 526.4 123.4 528.1 125.5C529.8 127.6 532.0 131.4 534.0 132.8C536.0 134.2 537.8 133.5 539.8 134.2C541.8 134.9 544.0 136.5 545.7 137.2C547.4 137.9 548.8 139.6 550.0 138.6C551.2 137.6 552.0 136.4 553.0 131.3C554.0 126.2 554.9 115.0 555.9 108.0C556.9 101.0 557.8 93.3 558.8 89.0C559.8 84.7 560.6 82.2 561.7 82.4C562.8 82.6 564.4 87.1 565.4 90.4C566.4 93.7 566.8 97.7 567.6 102.1C568.5 106.5 569.3 112.6 570.5 116.7C571.7 120.8 573.4 124.2 574.9 126.9C576.4 129.6 577.8 130.6 579.2 132.8C580.7 135.0 582.1 139.4 583.6 140.1C585.1 140.8 586.5 137.4 588.0 137.2C589.5 136.9 590.9 138.1 592.4 138.6C593.9 139.1 595.3 140.1 596.8 140.1C598.2 140.1 599.9 138.9 601.1 138.6C602.3 138.2 603.5 138.1 604.0 138.0L604.0 180.0C602.9 180.8 599.4 183.4 597.4 185.1C595.4 186.8 594.0 188.9 592.3 190.3C590.6 191.7 588.9 192.8 587.2 193.7C585.5 194.5 583.8 194.0 582.1 195.4C580.4 196.8 578.6 200.2 576.9 202.2C575.2 204.2 573.4 206.2 571.8 207.4C570.2 208.6 568.8 206.6 567.5 209.1C566.2 211.6 565.2 218.9 564.1 222.7C563.0 226.5 561.7 232.1 560.7 232.1C559.7 232.1 559.1 226.8 558.1 222.7C557.1 218.6 555.8 211.1 554.7 207.4C553.6 203.7 552.7 202.2 551.3 200.5C549.9 198.8 547.9 197.9 546.2 197.1C544.5 196.2 543.0 196.1 541.0 195.4C539.0 194.7 536.5 192.5 534.2 192.8C531.9 193.1 529.4 195.5 527.4 197.1C525.4 198.7 523.9 202.2 522.2 202.2C520.5 202.2 518.8 198.8 517.1 197.1C515.4 195.4 513.6 193.0 512.0 192.0C510.4 191.0 508.8 191.6 507.2 191.0C505.6 190.4 504.2 188.8 502.7 188.7C501.2 188.6 499.7 190.2 498.2 190.2C496.7 190.2 495.2 189.2 493.7 188.7C492.2 188.2 490.8 187.7 489.3 187.2C487.8 186.7 486.1 186.7 484.8 185.7C483.6 184.7 483.1 182.3 481.8 181.3C480.6 180.3 479.3 180.6 477.3 179.8C475.3 179.1 471.8 178.1 469.9 176.8C468.0 175.6 467.4 172.6 466.1 172.3C464.9 172.1 464.3 174.6 462.4 175.3C460.5 176.1 456.6 176.1 454.9 176.8C453.1 177.6 452.9 176.8 451.9 179.8C450.9 182.8 450.2 190.5 449.0 194.7C447.8 198.9 446.0 203.7 444.5 205.1C443.0 206.5 441.3 204.2 439.9 203.2C438.5 202.2 437.0 201.3 435.9 199.1C434.8 196.8 434.1 192.8 433.2 189.7C432.3 186.6 431.4 182.9 430.5 180.3C429.6 177.7 428.9 175.2 427.8 174.3C426.7 173.4 425.1 174.6 423.8 174.9C422.5 175.2 421.2 175.7 419.8 176.3C418.4 176.9 417.1 178.5 415.7 178.3C414.3 178.1 413.0 176.5 411.7 174.9C410.4 173.3 408.8 169.9 407.7 168.9C406.6 167.9 406.1 167.9 405.0 168.9C403.9 169.9 402.4 174.3 401.0 174.9C399.6 175.5 398.2 173.0 396.9 172.3C395.5 171.6 393.9 169.6 392.9 170.9C391.9 172.2 391.8 175.4 390.9 180.3C389.9 185.2 388.2 194.6 387.2 200.6C386.1 206.6 385.5 212.4 384.6 216.5C383.7 220.6 382.7 225.1 381.9 225.1C381.1 225.1 380.8 220.6 379.9 216.5C379.0 212.4 377.8 206.5 376.8 200.5C375.8 194.5 375.0 185.7 374.1 180.3C373.2 174.9 372.3 170.7 371.4 168.2C370.5 165.7 369.6 166.0 368.7 165.5C367.8 165.0 366.4 165.1 366.0 165.0Z" fill="#0000ff" fill-opacity="0.25"/>
</g>
<g clip-path="url(#clipb)" fill="none" stroke-linejoin="round" stroke-linecap="round">
<path d="M366.0 42.0C366.3 41.5 367.1 39.5 368.0 38.7C368.9 37.9 370.3 37.1 371.4 37.3C372.5 37.5 373.6 37.5 374.7 40.0C375.8 42.5 377.1 48.3 378.1 52.1C379.1 55.9 379.9 58.9 380.8 62.9C381.7 66.9 382.7 71.8 383.5 76.3C384.3 80.8 384.8 84.5 385.5 89.8C386.2 95.1 387.1 102.2 388.0 107.9C388.9 113.7 390.1 120.2 391.0 124.3C391.9 128.4 392.7 131.4 393.5 132.5C394.3 133.6 394.8 132.5 395.6 130.9C396.4 129.3 397.2 125.0 398.3 122.8C399.4 120.6 401.0 118.8 402.3 117.5C403.6 116.2 405.0 116.1 406.3 114.8C407.6 113.5 409.3 111.1 410.4 109.4C411.5 107.7 412.0 106.1 413.0 104.5C414.0 102.9 415.0 100.5 416.3 99.7C417.6 98.9 419.3 99.5 420.8 99.7C422.3 100.0 424.1 101.1 425.3 101.2C426.6 101.3 427.3 99.9 428.3 100.4C429.3 100.9 430.0 101.8 431.3 104.2C432.6 106.6 434.8 111.8 436.3 115.0C437.9 118.2 439.2 120.2 440.6 123.6C442.0 126.9 443.7 131.3 444.9 135.1C446.1 138.9 446.8 143.8 447.8 146.6C448.8 149.4 449.5 150.8 450.7 152.0C451.9 153.2 453.4 154.0 455.0 154.0C456.6 154.0 458.3 151.8 460.0 152.0C461.7 152.2 463.4 151.8 465.0 155.2C466.6 158.6 467.9 167.2 469.3 172.4C470.7 177.7 472.4 183.8 473.6 186.7C474.8 189.6 475.6 190.3 476.5 189.6C477.4 188.9 478.1 185.8 479.3 182.4C480.5 179.1 482.2 172.4 483.6 169.5C485.1 166.6 486.6 165.2 488.0 165.2C489.4 165.2 490.8 168.6 492.2 169.3C493.6 170.0 495.2 171.2 496.7 169.3C498.2 167.4 499.9 162.9 501.2 158.0C502.4 153.1 502.9 145.6 504.2 140.0C505.4 134.4 507.5 128.5 508.7 124.3C509.9 120.1 510.6 114.8 511.6 114.6C512.6 114.3 513.7 119.5 514.6 122.8C515.5 126.1 516.3 130.2 516.9 134.7C517.5 139.2 517.9 145.1 518.4 150.0C518.9 154.9 519.3 159.4 520.1 164.2C520.9 169.0 522.0 174.7 523.0 178.8C524.0 182.9 524.9 186.3 526.0 189.0C527.1 191.7 528.3 194.2 529.6 194.9C530.9 195.6 532.5 193.4 534.0 193.4C535.5 193.4 536.9 193.7 538.4 194.9C539.9 196.1 541.3 198.6 542.7 200.7C544.1 202.8 545.6 204.6 547.0 207.4C548.4 210.2 549.7 213.6 551.3 217.6C552.9 221.6 554.7 226.5 556.4 231.3C558.1 236.2 560.1 243.0 561.5 246.7C562.9 250.4 563.9 252.2 565.0 253.5C566.1 254.8 567.3 255.5 568.4 254.4C569.5 253.3 570.4 250.0 571.8 246.7C573.2 243.4 575.2 238.4 576.9 234.7C578.6 231.0 580.7 227.8 582.1 224.4C583.5 221.0 584.4 216.5 585.5 214.2C586.6 211.9 587.8 211.1 588.9 210.8C590.0 210.5 591.2 211.4 592.3 212.5C593.4 213.6 594.6 216.5 595.7 217.6C596.8 218.7 597.9 220.2 599.1 219.3C600.3 218.5 602.4 213.6 603.0 212.5" stroke="#8a8a8a" stroke-width="3.0"/>
<path d="M438.5 137.2C438.9 138.8 439.8 143.4 440.6 146.6C441.4 149.8 442.3 153.6 443.5 156.6C444.7 159.6 446.4 162.9 447.8 164.5C449.2 166.1 450.8 166.5 452.1 165.9C453.4 165.3 454.6 163.2 455.7 160.9C456.8 158.6 457.7 154.1 458.5 152.3C459.3 150.5 459.8 150.1 460.7 150.0C461.6 149.9 462.7 150.8 463.6 152.0C464.6 153.2 465.3 155.2 466.4 157.0C467.5 158.8 468.7 161.2 470.0 163.0C471.3 164.8 472.4 166.2 474.0 168.0C475.6 169.8 477.8 172.7 479.3 173.7C480.8 174.7 481.9 173.6 483.0 174.0C484.1 174.4 484.9 174.8 486.0 176.0C487.1 177.2 488.6 180.5 489.7 181.2C490.8 181.9 491.7 180.9 492.5 180.0C493.3 179.1 493.5 178.5 494.5 176.0C495.5 173.5 497.5 169.1 498.7 164.8C499.9 160.5 500.7 154.5 501.5 150.0C502.3 145.5 502.6 143.0 503.3 138.0C504.0 133.0 504.6 125.0 505.5 120.0C506.4 115.0 507.6 110.8 508.7 107.8C509.8 104.8 511.2 102.2 512.4 101.9C513.6 101.7 515.0 103.3 516.1 106.3C517.2 109.3 518.2 115.6 519.1 119.8C520.0 124.0 520.4 128.2 521.3 131.7C522.2 135.2 523.2 138.8 524.3 140.7C525.4 142.6 526.7 142.7 528.1 143.0C529.5 143.3 531.0 142.1 532.5 142.3C534.0 142.6 535.4 143.5 536.9 144.5C538.4 145.5 539.8 146.8 541.3 148.1C542.8 149.4 544.0 151.3 545.7 152.5C547.4 153.7 549.8 153.9 551.5 155.4C553.2 156.9 554.7 158.6 555.9 161.3C557.1 164.0 557.8 168.6 558.8 171.5C559.8 174.4 560.6 176.6 561.7 178.8C562.8 181.0 564.4 183.5 565.4 184.6C566.4 185.7 566.8 185.9 567.6 185.4C568.5 184.9 569.3 183.8 570.5 181.7C571.7 179.6 573.4 175.4 574.9 173.0C576.4 170.6 577.5 168.6 579.2 167.1C580.9 165.6 583.2 164.7 585.1 164.2C587.0 163.7 589.2 163.2 590.9 164.2C592.6 165.2 594.1 168.8 595.3 170.0C596.5 171.2 597.2 172.0 598.2 171.5C599.2 171.0 600.3 169.0 601.1 167.1C601.9 165.2 602.7 161.0 603.0 159.8" stroke="#4a4a4a" stroke-width="3.0"/>
<path d="M366.0 129.6C366.7 129.0 368.6 126.9 370.0 126.2C371.4 125.5 372.8 124.9 374.1 125.5C375.5 126.1 376.5 128.0 378.1 129.6C379.7 131.2 381.7 133.4 383.5 134.9C385.3 136.4 387.2 137.4 388.8 138.3C390.4 139.2 391.3 139.1 392.9 140.3C394.5 141.5 396.5 144.8 398.3 145.7C400.1 146.6 401.8 146.6 403.6 145.7C405.4 144.8 407.2 141.7 409.0 140.3C410.8 139.0 412.6 137.8 414.4 137.6C416.2 137.4 418.2 138.1 419.8 139.0C421.4 139.9 422.2 141.4 423.8 143.0C425.4 144.6 427.4 147.3 429.2 148.4C431.0 149.5 432.7 150.2 434.5 149.7C436.3 149.2 438.1 146.1 440.0 145.4C441.9 144.7 444.0 145.2 446.0 145.4C448.0 145.7 449.7 146.9 451.9 146.9C454.1 146.9 457.1 146.0 459.4 145.4C461.6 144.8 463.4 143.2 465.4 143.2C467.4 143.2 469.3 144.3 471.3 145.4C473.3 146.5 475.3 150.4 477.3 149.9C479.3 149.4 481.6 143.4 483.3 142.5C485.1 141.6 486.3 143.0 487.8 144.7C489.3 146.4 490.7 149.8 492.2 152.9C493.7 156.0 495.4 161.2 496.7 163.4C497.9 165.6 498.4 166.6 499.7 166.3C500.9 166.1 502.7 164.1 504.2 161.9C505.7 159.7 507.2 154.7 508.7 152.9C510.2 151.2 511.6 150.7 513.1 151.4C514.6 152.2 516.1 155.2 517.6 157.4C519.1 159.7 520.6 162.9 522.1 164.9C523.6 166.9 525.3 168.2 526.6 169.3C527.9 170.4 528.3 170.2 530.0 171.5C531.7 172.8 534.5 176.2 536.9 177.3C539.3 178.4 542.0 178.6 544.2 178.1C546.4 177.6 548.0 175.5 550.0 174.4C552.0 173.3 553.9 171.5 555.9 171.5C557.9 171.5 559.8 172.9 561.7 174.4C563.7 175.9 565.9 179.6 567.6 180.3C569.3 181.0 570.5 180.3 571.9 178.8C573.3 177.3 574.6 173.6 576.3 171.5C578.0 169.4 580.2 167.6 582.2 166.4C584.2 165.2 586.1 165.3 588.0 164.2C589.9 163.1 592.1 161.8 593.8 159.8C595.5 157.9 596.7 154.7 598.2 152.5C599.7 150.3 602.2 147.7 603.0 146.7" stroke="#f2f2f2" stroke-width="3.0"/>
<path d="M366.0 134.3C366.9 134.6 369.6 135.1 371.4 136.3C373.2 137.5 375.0 140.0 376.8 141.7C378.6 143.4 380.3 145.7 382.1 146.4C383.9 147.1 385.7 146.4 387.5 145.7C389.3 145.0 391.1 143.2 392.9 142.3C394.7 141.4 396.5 140.7 398.3 140.3C400.1 139.9 401.8 140.2 403.6 139.7C405.4 139.1 407.2 137.0 409.0 137.0C410.8 137.0 412.6 138.7 414.4 139.7C416.2 140.7 418.0 142.0 419.8 143.0C421.6 144.0 423.3 144.6 425.1 145.7C426.9 146.8 428.7 148.1 430.5 149.7C432.3 151.3 434.1 154.2 435.9 155.1C437.7 156.0 439.6 155.2 441.3 155.1C443.0 155.0 444.2 155.3 446.0 154.4C447.8 153.5 449.7 150.7 451.9 149.9C454.1 149.2 456.9 150.2 459.4 149.9C461.9 149.7 464.7 149.4 466.9 148.4C469.1 147.4 470.8 144.0 472.8 144.0C474.8 144.0 476.8 147.4 478.8 148.4C480.8 149.4 482.8 149.9 484.8 149.9C486.8 149.9 488.7 148.2 490.7 148.4C492.7 148.7 494.7 149.9 496.7 151.4C498.7 152.9 500.7 155.9 502.7 157.4C504.7 158.9 506.7 159.7 508.7 160.4C510.7 161.2 512.6 161.7 514.6 161.9C516.6 162.2 518.4 162.2 520.6 161.9C522.9 161.6 525.6 159.7 528.1 159.8C530.6 159.9 533.0 161.7 535.4 162.7C537.8 163.7 540.3 164.8 542.7 165.7C545.1 166.5 548.0 167.6 550.0 167.8C552.0 168.0 552.9 168.2 554.4 167.1C555.9 166.0 557.1 163.0 558.8 161.3C560.5 159.6 562.9 157.2 564.6 156.9C566.3 156.7 567.5 158.2 569.0 159.8C570.5 161.4 571.9 164.7 573.4 166.4C574.9 168.1 576.3 169.6 577.8 170.0C579.3 170.4 580.5 169.3 582.2 168.6C583.9 167.9 586.1 166.4 588.0 165.7C589.9 165.0 591.8 165.2 593.8 164.2C595.8 163.2 598.2 161.0 599.7 159.8C601.2 158.6 602.5 157.4 603.0 156.9" stroke="#1a1aff" stroke-width="3.2"/>
<path d="M366.0 155.5C367.1 155.2 370.5 154.4 372.7 153.4C374.9 152.4 377.4 150.3 379.4 149.4C381.4 148.5 383.0 147.9 384.8 148.1C386.6 148.3 388.4 149.6 390.2 150.8C392.0 152.0 393.8 154.4 395.6 155.5C397.4 156.6 399.1 157.5 400.9 157.5C402.7 157.5 404.5 156.6 406.3 155.5C408.1 154.4 409.9 152.3 411.7 150.8C413.5 149.3 415.3 147.7 417.1 146.7C418.9 145.7 420.9 144.0 422.5 144.7C424.1 145.4 425.2 148.5 426.5 150.8C427.8 153.2 429.2 156.6 430.5 158.8C431.8 161.0 433.1 163.8 434.5 164.2C435.9 164.6 437.2 163.1 438.6 161.5C440.0 159.9 441.4 156.4 442.6 154.8C443.8 153.2 444.4 152.9 446.0 152.1C447.6 151.3 449.7 150.9 451.9 149.9C454.1 148.9 456.9 146.4 459.4 146.2C461.9 145.9 464.7 147.3 466.9 148.4C469.1 149.5 470.8 151.4 472.8 152.9C474.8 154.4 476.8 156.5 478.8 157.4C480.8 158.3 482.8 158.1 484.8 158.1C486.8 158.1 488.7 157.4 490.7 157.4C492.7 157.4 494.7 158.1 496.7 158.1C498.7 158.1 500.7 158.3 502.7 157.4C504.7 156.5 506.7 154.7 508.7 152.9C510.7 151.2 512.9 148.4 514.6 146.9C516.3 145.4 517.4 144.2 519.1 144.0C520.9 143.8 522.9 144.0 525.1 145.4C527.3 146.8 530.0 150.7 532.5 152.5C535.0 154.3 537.4 155.2 539.8 156.2C542.2 157.2 544.9 158.3 547.1 158.4C549.3 158.5 551.0 158.4 553.0 156.9C555.0 155.4 556.9 151.4 558.8 149.6C560.7 147.8 562.6 146.1 564.6 146.0C566.6 145.9 568.3 148.3 570.5 148.9C572.7 149.5 575.6 149.0 577.8 149.6C580.0 150.2 581.6 151.3 583.6 152.5C585.6 153.7 587.5 156.4 589.5 156.9C591.5 157.4 593.6 156.4 595.3 155.4C597.0 154.4 598.4 152.1 599.7 151.1C601.0 150.1 602.5 149.8 603.0 149.6" stroke="#ffa619" stroke-width="2.8"/>
<path d="M366.0 150.1C366.9 149.6 369.6 147.9 371.4 147.0C373.2 146.1 375.0 144.7 376.8 144.4C378.6 144.1 380.5 144.4 382.1 145.0C383.7 145.6 384.4 146.9 386.2 148.1C388.0 149.3 390.9 151.5 392.9 152.1C394.9 152.7 396.5 152.1 398.3 151.4C400.1 150.7 402.0 148.4 403.6 148.1C405.2 147.8 406.4 148.3 407.7 149.4C409.0 150.5 410.1 153.2 411.7 154.8C413.3 156.4 415.5 158.6 417.1 158.8C418.7 159.0 419.5 156.8 421.1 156.1C422.7 155.4 424.7 154.5 426.5 154.8C428.3 155.1 430.3 157.7 431.9 158.1C433.5 158.5 434.6 158.7 436.0 157.5C437.4 156.3 438.6 152.8 440.0 151.0C441.4 149.2 443.0 147.2 444.5 147.0C446.0 146.8 447.5 148.0 449.0 150.0C450.5 152.0 451.9 156.6 453.4 158.9C454.9 161.2 456.4 163.6 457.9 164.1C459.4 164.6 460.9 163.2 462.4 161.9C463.9 160.7 465.2 157.1 466.9 156.6C468.6 156.1 471.1 158.0 472.8 158.9C474.5 159.8 475.6 162.2 477.3 161.9C479.1 161.7 481.3 158.8 483.3 157.4C485.3 156.0 487.3 154.2 489.3 153.7C491.3 153.2 493.2 153.8 495.2 154.4C497.2 155.0 499.2 157.4 501.2 157.4C503.2 157.4 505.2 155.4 507.2 154.4C509.2 153.4 511.1 152.4 513.1 151.4C515.1 150.4 517.1 149.2 519.1 148.4C521.1 147.7 522.9 147.3 525.1 146.9C527.3 146.5 530.3 146.1 532.5 145.9C534.7 145.8 536.4 146.2 538.4 146.0C540.4 145.8 542.0 144.5 544.2 144.5C546.4 144.5 549.1 145.8 551.5 146.0C553.9 146.2 556.4 145.4 558.8 146.0C561.2 146.6 563.7 148.4 566.1 149.6C568.5 150.8 571.0 152.1 573.4 153.2C575.8 154.3 578.3 155.5 580.7 156.2C583.1 156.9 585.8 157.5 588.0 157.6C590.2 157.7 591.8 157.3 593.8 156.9C595.8 156.5 598.2 155.9 599.7 155.4C601.2 154.9 602.5 154.2 603.0 154.0" stroke="#ff2424" stroke-width="2.8"/>
</g>
<path d="M393.5 256.7v-3.6M428.5 256.7v-3.6M463.5 256.7v-3.6M498.5 256.7v-3.6M533.5 256.7v-3.6M568.5 256.7v-3.6M366.9 59.5h3.6M366.9 106.5h3.6M366.9 152.5h3.6M366.9 199.5h3.6M366.9 246.5h3.6" stroke="#555" stroke-width="1" fill="none"/>
<rect x="366.9" y="36.6" width="235.0" height="220.4" fill="none" stroke="#303030" stroke-width="1.3"/>
<text x="363.5" y="63.2" font-size="13.4" text-anchor="end" fill="#000" textLength="19.6" lengthAdjust="spacingAndGlyphs">0.4</text>
<text x="363.5" y="109.9" font-size="13.4" text-anchor="end" fill="#000" textLength="19.6" lengthAdjust="spacingAndGlyphs">0.2</text>
<text x="363.5" y="156.6" font-size="13.4" text-anchor="end" fill="#000" textLength="19.6" lengthAdjust="spacingAndGlyphs">0.0</text>
<text x="363.5" y="203.3" font-size="13.4" text-anchor="end" fill="#000" textLength="29.2" lengthAdjust="spacingAndGlyphs">−0.2</text>
<text x="363.5" y="250.0" font-size="13.4" text-anchor="end" fill="#000" textLength="29.2" lengthAdjust="spacingAndGlyphs">−0.4</text>
<text x="393.5" y="269.4" font-size="13.7" text-anchor="middle" fill="#000" textLength="31.2" lengthAdjust="spacingAndGlyphs">1880</text>
<text x="428.6" y="269.4" font-size="13.7" text-anchor="middle" fill="#000" textLength="31.2" lengthAdjust="spacingAndGlyphs">1900</text>
<text x="463.7" y="269.4" font-size="13.7" text-anchor="middle" fill="#000" textLength="31.2" lengthAdjust="spacingAndGlyphs">1920</text>
<text x="498.7" y="269.4" font-size="13.7" text-anchor="middle" fill="#000" textLength="31.2" lengthAdjust="spacingAndGlyphs">1940</text>
<text x="533.8" y="269.4" font-size="13.7" text-anchor="middle" fill="#000" textLength="31.2" lengthAdjust="spacingAndGlyphs">1960</text>
<text x="568.9" y="269.4" font-size="13.7" text-anchor="middle" fill="#000" textLength="31.2" lengthAdjust="spacingAndGlyphs">1980</text>
<clipPath id="clipc"><rect x="49.4" y="325.3" width="235.1" height="219.9"/></clipPath>
<path d="M75.5 325.3V545.2M110.5 325.3V545.2M145.5 325.3V545.2M180.5 325.3V545.2M216.5 325.3V545.2M251.5 325.3V545.2M49.4 344.5H284.5M49.4 375.5H284.5M49.4 407.5H284.5M49.4 438.5H284.5M49.4 470.5H284.5M49.4 501.5H284.5M49.4 533.5H284.5" stroke="#b0b0b0" stroke-width="1" fill="none"/>
<g clip-path="url(#clipc)">
<path d="M121.0 360.0C121.6 359.6 123.3 357.1 124.4 357.3C125.5 357.5 126.9 359.7 127.8 361.3C128.7 362.9 128.8 365.6 129.8 366.7C130.8 367.8 132.5 367.2 133.8 368.0C135.1 368.8 136.5 369.9 137.8 371.4C139.2 372.9 140.6 375.8 141.9 377.0C143.2 378.2 144.6 378.1 145.9 378.8C147.2 379.6 148.6 381.1 149.9 381.5C151.2 381.9 152.7 383.5 154.0 381.5C155.3 379.5 156.9 372.8 158.0 369.4C159.1 366.0 159.8 364.2 160.7 361.3C161.6 358.4 162.6 355.0 163.5 352.0C164.4 349.0 165.0 344.5 166.1 343.1C167.2 341.7 168.8 342.1 170.1 343.8C171.4 345.5 172.8 350.7 174.1 353.2C175.4 355.7 176.8 357.1 178.2 358.6C179.5 360.1 180.9 361.3 182.2 362.0C183.5 362.7 184.7 362.5 186.0 363.0C187.3 363.5 188.8 364.2 190.0 365.0C191.2 365.8 191.5 367.1 193.1 367.5C194.7 367.9 197.3 367.2 199.4 367.5C201.5 367.8 203.6 368.6 205.7 369.1C207.8 369.6 210.2 371.8 212.0 370.7C213.8 369.6 215.5 364.6 216.8 362.8C218.1 361.0 218.9 358.9 219.9 360.0C220.9 361.1 222.1 366.3 223.1 369.1C224.1 371.9 225.1 375.2 226.2 377.0C227.2 378.8 228.3 379.3 229.4 380.1C230.5 380.9 231.4 380.9 232.5 381.7C233.6 382.5 234.9 382.6 235.7 384.8C236.5 387.0 236.7 391.6 237.5 395.0C238.3 398.4 239.4 402.7 240.4 405.2C241.4 407.7 242.2 408.8 243.5 409.9C244.8 410.9 247.0 411.8 248.3 411.5C249.6 411.2 250.1 410.1 251.4 408.3C252.7 406.5 254.0 401.6 256.1 400.5C258.2 399.4 261.4 402.3 264.0 402.0C266.6 401.7 269.5 399.7 271.9 398.9C274.3 398.1 275.8 397.8 278.2 397.3C280.6 396.8 284.7 396.0 286.0 395.7L286.0 498.0C284.9 499.2 281.3 501.6 279.3 505.1C277.3 508.6 275.6 515.6 274.2 518.8C272.8 521.9 271.8 524.0 270.7 524.0C269.6 524.0 268.1 521.4 267.3 518.8C266.5 516.2 266.5 510.2 265.6 508.5C264.7 506.8 263.7 508.9 262.1 508.5C260.5 508.1 257.7 506.4 256.0 506.0C254.3 505.6 253.3 506.2 252.0 506.0C250.7 505.8 249.2 505.2 248.0 505.0C246.8 504.8 246.0 504.2 245.0 505.0C244.0 505.8 242.9 507.7 242.0 510.0C241.1 512.3 240.5 515.0 239.7 519.0C238.9 523.0 238.0 530.0 237.2 534.0C236.3 538.0 235.5 542.8 234.6 543.0C233.7 543.2 232.8 539.2 232.0 535.0C231.2 530.8 230.6 523.5 229.8 518.0C229.1 512.5 228.3 506.2 227.5 502.0C226.7 497.8 225.9 494.2 225.0 493.0C224.1 491.8 223.2 494.2 222.0 495.0C220.8 495.8 219.3 497.2 218.0 498.0C216.7 498.8 215.2 500.2 214.0 500.0C212.8 499.8 211.7 498.7 210.5 497.0C209.3 495.3 208.2 491.7 207.0 489.6C205.8 487.5 204.8 487.7 203.6 484.4C202.4 481.1 201.4 471.4 200.0 470.0C198.6 468.6 196.6 473.8 194.9 476.2C193.2 478.6 191.6 482.6 190.0 484.4C188.4 486.2 186.4 486.4 185.1 486.8C183.8 487.2 182.9 486.9 182.0 487.0C181.1 487.1 180.4 488.0 179.4 487.6C178.4 487.2 177.3 483.6 176.2 484.4C175.1 485.2 174.1 490.1 172.9 492.5C171.7 494.9 170.3 498.0 168.8 499.1C167.3 500.2 165.5 499.2 163.9 499.1C162.3 499.0 160.6 497.9 159.0 498.2C157.4 498.5 155.8 500.8 154.2 500.7C152.6 500.6 150.7 499.6 149.3 497.4C147.9 495.2 147.0 490.3 146.0 487.6C145.0 484.9 144.6 480.3 143.5 481.1C142.4 481.9 140.6 490.1 139.5 492.5C138.4 494.9 137.8 494.3 137.0 495.8C136.2 497.3 135.5 501.2 134.6 501.5C133.7 501.8 132.7 498.3 131.3 497.4C129.9 496.4 128.1 496.3 126.4 495.8C124.7 495.3 121.9 494.5 121.0 494.2Z" fill="#708090" fill-opacity="0.28"/>
<path d="M121.0 328.4C121.6 328.0 123.3 326.8 124.4 326.3C125.5 325.9 126.9 324.8 127.8 325.7C128.7 326.6 129.1 328.9 129.8 331.7C130.5 334.5 131.1 338.7 131.8 342.5C132.5 346.3 133.1 350.8 133.8 354.6C134.5 358.4 135.0 362.6 135.8 365.3C136.6 368.0 137.5 368.9 138.5 370.7C139.5 372.5 140.9 375.0 141.9 376.1C142.9 377.2 143.6 379.4 144.6 377.4C145.6 375.4 146.8 367.7 147.9 364.0C149.0 360.3 150.2 355.6 151.3 355.2C152.4 354.8 153.6 359.4 154.7 361.3C155.8 363.2 156.9 366.9 158.0 366.7C159.1 366.5 160.3 362.5 161.4 360.0C162.5 357.5 163.6 354.4 164.7 351.9C165.8 349.4 167.0 345.0 168.1 345.2C169.2 345.4 170.5 351.0 171.5 353.0C172.5 355.0 173.2 354.8 174.0 357.0C174.8 359.2 175.3 364.3 176.0 366.0C176.7 367.7 177.0 367.5 178.0 367.0C179.0 366.5 181.0 363.0 182.0 363.0C183.0 363.0 183.3 365.0 184.0 367.0C184.7 369.0 185.3 372.0 186.0 375.0C186.7 378.0 187.3 382.8 188.0 385.0C188.7 387.2 189.2 388.8 190.0 388.0C190.8 387.2 191.7 382.5 192.5 380.0C193.3 377.5 193.8 375.0 194.9 372.9C196.0 370.8 197.6 367.1 198.9 367.4C200.2 367.7 201.8 372.0 202.8 374.9C203.8 377.8 204.1 381.6 204.8 384.9C205.5 388.2 206.2 392.6 206.8 394.8C207.4 397.0 207.9 397.6 208.5 398.0C209.1 398.4 209.1 395.3 210.5 397.0C211.9 398.7 215.0 406.4 216.8 408.3C218.6 410.2 219.9 409.4 221.5 408.3C223.1 407.2 224.6 403.8 226.2 402.0C227.8 400.2 229.3 398.6 230.9 397.3C232.5 396.0 234.1 392.9 235.7 394.2C237.3 395.5 238.8 402.3 240.4 405.2C242.0 408.1 243.5 410.7 245.1 411.5C246.7 412.3 248.5 411.7 249.8 409.9C251.1 408.1 251.7 403.4 253.0 400.5C254.3 397.6 256.1 393.1 257.7 392.6C259.3 392.1 260.8 396.0 262.4 397.3C264.0 398.6 265.6 401.8 267.2 400.5C268.8 399.2 270.5 391.8 271.9 389.4C273.3 387.0 274.4 386.3 275.8 386.3C277.2 386.3 278.9 388.9 280.6 389.4C282.3 389.9 285.1 389.4 286.0 389.4L286.0 501.6C284.9 502.5 281.3 504.5 279.3 506.8C277.3 509.1 275.9 513.4 274.2 515.4C272.5 517.4 270.7 518.2 269.0 518.8C267.3 519.4 265.2 517.6 263.8 518.8C262.4 519.9 261.7 523.7 260.4 525.7C259.1 527.7 257.8 531.5 256.1 530.9C254.4 530.3 252.0 526.0 250.1 522.3C248.2 518.6 246.6 512.2 244.9 508.5C243.2 504.8 241.5 502.2 240.0 500.0C238.5 497.8 237.3 496.0 236.0 495.0C234.7 494.0 233.3 493.8 232.0 494.0C230.7 494.2 229.3 494.3 228.0 496.0C226.7 497.7 225.5 501.6 224.3 504.0C223.1 506.4 222.2 508.9 220.8 510.2C219.4 511.5 217.1 511.0 215.7 512.0C214.3 513.0 213.3 517.7 212.2 516.0C211.0 514.3 210.0 506.0 208.8 501.6C207.7 497.2 206.5 490.5 205.3 489.6C204.2 488.8 203.4 493.9 201.9 496.5C200.4 499.1 198.0 504.0 196.6 505.0C195.2 506.0 194.7 503.6 193.3 502.3C191.9 501.0 190.0 497.7 188.4 497.4C186.8 497.1 184.8 501.9 183.5 500.7C182.2 499.5 181.2 494.1 180.3 490.0C179.4 485.9 178.5 480.4 177.8 476.2C177.1 472.0 176.9 466.4 176.2 464.8C175.5 463.2 174.6 465.3 173.7 466.4C172.8 467.5 171.8 469.7 170.5 471.3C169.2 472.9 167.2 474.8 165.6 476.2C164.0 477.6 162.3 478.7 160.7 479.5C159.1 480.3 157.4 480.0 155.8 481.1C154.2 482.2 152.3 485.7 150.9 486.0C149.5 486.3 148.8 483.7 147.6 482.7C146.4 481.7 144.8 478.6 143.5 480.0C142.2 481.4 141.0 489.7 139.5 491.0C138.0 492.3 136.2 489.0 134.6 487.6C133.0 486.2 131.2 484.3 129.7 482.7C128.2 481.1 127.0 478.1 125.6 477.8C124.1 477.5 121.8 480.5 121.0 481.0Z" fill="#0000ff" fill-opacity="0.25"/>
</g>
<g clip-path="url(#clipc)" fill="none" stroke-linejoin="round" stroke-linecap="round">
<path d="M121.0 445.0C121.7 443.3 123.6 439.5 125.0 435.0C126.4 430.5 128.2 423.8 129.4 418.0C130.6 412.2 131.2 404.2 132.0 400.0C132.8 395.8 133.2 395.1 134.2 392.9C135.2 390.6 137.0 387.6 138.2 386.5C139.4 385.4 140.6 384.1 141.5 386.5C142.4 388.9 142.7 395.6 143.9 401.0C145.1 406.4 147.2 412.8 148.6 418.6C150.0 424.5 151.2 430.5 152.6 436.1C153.9 441.7 155.5 447.7 156.7 452.2C157.8 456.7 158.6 461.4 159.5 463.0C160.4 464.6 161.1 462.9 162.0 462.0C162.9 461.1 163.8 462.6 164.7 457.6C165.6 452.6 166.5 440.1 167.4 432.0C168.3 423.9 169.3 414.1 170.1 409.2C170.9 404.3 171.3 402.1 172.1 402.5C172.9 402.9 173.8 407.0 174.8 411.9C175.8 416.8 177.2 426.9 178.2 432.0C179.2 437.1 180.0 441.7 180.9 442.8C181.8 443.9 182.6 442.4 183.5 438.8C184.4 435.2 185.3 426.0 186.2 421.3C187.1 416.6 188.0 412.4 188.9 410.5C189.8 408.6 190.6 407.4 191.6 409.9C192.6 412.4 193.6 421.0 194.7 425.7C195.8 430.4 196.8 437.2 197.9 438.3C199.0 439.4 199.7 436.5 201.0 432.0C202.3 427.5 204.1 417.6 205.7 411.5C207.3 405.4 208.9 395.7 210.5 395.7C212.1 395.7 213.6 404.9 215.2 411.5C216.8 418.1 218.7 428.7 219.9 435.1C221.1 441.5 221.5 441.8 222.5 450.0C223.5 458.2 225.0 476.6 226.0 484.4C227.0 492.1 227.9 496.5 228.6 496.5C229.3 496.5 229.6 490.4 230.3 484.4C231.0 478.4 232.0 465.9 232.9 460.3C233.8 454.7 234.4 455.1 235.7 450.9C236.9 446.7 238.8 438.8 240.4 435.1C242.0 431.4 243.7 428.8 245.1 428.8C246.5 428.8 247.8 431.8 249.0 435.0C250.2 438.2 251.0 443.5 252.0 448.0C253.0 452.5 254.2 458.2 255.0 462.0C255.8 465.8 256.1 469.6 257.0 470.7C257.9 471.8 259.3 470.6 260.4 468.9C261.5 467.2 262.4 463.3 263.8 460.3C265.2 457.3 267.1 455.1 268.7 450.9C270.3 446.7 272.1 438.0 273.5 435.1C274.9 432.2 276.1 432.2 277.4 433.5C278.7 434.8 280.0 439.3 281.3 443.0C282.6 446.7 284.4 453.5 285.0 455.6" stroke="#8a8a8a" stroke-width="3.0"/>
<path d="M121.0 457.6C121.3 454.9 122.3 446.4 123.1 441.5C123.9 436.6 124.7 432.0 125.8 428.0C126.9 424.0 128.5 421.0 129.8 417.3C131.1 413.6 132.7 408.2 133.8 405.8C134.9 403.4 135.5 402.5 136.5 403.1C137.5 403.7 138.8 406.6 139.9 409.2C141.0 411.8 142.0 415.7 143.2 418.6C144.4 421.5 146.0 425.9 147.3 426.7C148.7 427.5 150.0 422.9 151.3 423.3C152.6 423.8 154.0 425.9 155.3 429.4C156.7 432.9 158.3 442.1 159.4 444.1C160.5 446.1 161.1 444.6 162.0 441.5C162.9 438.4 163.8 431.4 164.7 425.3C165.6 419.2 166.5 411.2 167.4 405.2C168.3 399.1 169.3 392.9 170.1 389.0C170.9 385.1 171.3 382.7 172.0 382.0C172.7 381.3 173.4 382.9 174.0 385.0C174.6 387.1 174.9 391.5 175.5 394.8C176.1 398.1 176.9 402.1 177.5 405.0C178.1 407.9 178.2 410.1 178.8 411.9C179.4 413.7 180.1 417.5 180.9 415.9C181.7 414.3 182.6 407.0 183.5 402.5C184.4 398.0 185.3 394.4 186.2 389.0C187.1 383.6 188.2 373.4 188.9 369.9C189.6 366.4 189.8 367.1 190.4 367.9C191.0 368.7 191.7 371.6 192.4 374.9C193.1 378.2 193.8 382.8 194.4 387.8C195.1 392.9 195.5 400.5 196.3 405.2C197.1 409.9 198.4 415.1 199.4 416.2C200.4 417.2 201.6 414.4 202.6 411.5C203.6 408.6 204.8 402.1 205.7 398.9C206.6 395.6 207.3 393.6 208.0 392.0C208.7 390.4 209.0 389.2 209.8 389.3C210.6 389.4 211.8 390.6 212.8 392.8C213.8 395.1 214.9 398.4 215.8 402.8C216.7 407.2 217.4 412.2 218.3 419.4C219.2 426.6 220.5 439.3 221.5 446.1C222.5 452.9 223.3 457.1 224.3 460.3C225.3 463.5 226.8 465.5 227.7 465.5C228.5 465.5 228.7 462.9 229.4 460.3C230.1 457.7 231.2 452.9 232.0 450.0C232.8 447.1 233.4 445.5 234.5 443.0C235.6 440.5 237.3 437.7 238.8 435.1C240.3 432.5 241.9 428.2 243.5 427.2C245.1 426.1 247.0 426.2 248.3 428.8C249.6 431.4 250.5 438.0 251.4 443.0C252.3 448.0 252.6 452.9 253.5 458.6C254.4 464.4 255.8 473.5 257.0 477.5C258.1 481.5 259.3 482.4 260.4 482.7C261.5 483.0 262.6 480.3 263.8 479.3C265.0 478.3 266.2 477.0 267.3 476.7C268.4 476.4 269.6 476.5 270.7 477.5C271.8 478.5 273.0 481.3 274.2 482.7C275.4 484.1 276.5 484.7 277.6 486.1C278.8 487.5 279.9 489.3 281.1 491.3C282.3 493.3 284.4 497.1 285.0 498.2" stroke="#4a4a4a" stroke-width="3.0"/>
<path d="M121.0 429.4C121.8 428.8 124.3 426.0 125.8 426.0C127.3 426.0 128.4 427.8 129.8 429.4C131.2 431.0 132.9 435.2 134.5 435.4C136.1 435.6 137.8 432.0 139.2 430.7C140.6 429.4 141.8 427.3 143.2 427.3C144.5 427.3 146.0 428.8 147.3 430.7C148.7 432.6 150.0 437.0 151.3 438.8C152.6 440.6 154.0 442.4 155.3 441.5C156.7 440.6 158.1 436.1 159.4 433.4C160.8 430.7 161.8 427.2 163.4 425.3C165.0 423.4 167.0 422.8 168.8 422.0C170.6 421.2 172.5 420.7 174.1 420.6C175.7 420.5 176.8 420.5 178.2 421.3C179.5 422.1 180.9 423.7 182.2 425.3C183.5 426.9 184.9 430.4 186.2 430.7C187.5 431.0 188.6 428.9 190.0 427.0C191.4 425.1 193.1 420.7 194.7 419.4C196.3 418.1 197.8 418.1 199.4 419.4C201.0 420.7 202.6 424.0 204.2 427.2C205.8 430.4 207.3 435.9 208.9 438.3C210.5 440.7 212.0 441.7 213.6 441.4C215.2 441.1 216.7 437.0 218.3 436.7C219.9 436.4 221.5 437.7 223.1 439.8C224.7 441.9 226.2 445.9 227.8 449.3C229.4 452.7 231.1 457.3 232.5 460.0C233.9 462.7 234.8 465.2 236.3 465.5C237.8 465.8 239.8 463.3 241.5 462.0C243.2 460.7 244.6 458.0 246.6 457.7C248.6 457.4 251.2 459.6 253.5 460.3C255.8 461.0 258.1 462.0 260.4 462.0C262.7 462.0 265.0 461.4 267.3 460.3C269.6 459.2 271.9 456.9 274.2 455.2C276.5 453.5 279.3 451.5 281.1 450.0C282.9 448.5 284.4 446.7 285.0 446.0" stroke="#f2f2f2" stroke-width="3.0"/>
<path d="M121.0 405.2C121.6 404.5 123.3 401.2 124.4 401.1C125.5 401.0 126.7 402.7 127.8 404.5C128.9 406.3 129.9 409.1 131.1 411.9C132.3 414.7 133.8 418.3 135.2 421.3C136.5 424.3 137.9 428.6 139.2 430.0C140.5 431.4 141.8 430.4 143.2 429.4C144.5 428.4 145.7 425.5 147.3 424.0C148.9 422.5 151.0 420.9 152.6 420.6C154.2 420.3 155.3 421.6 156.7 422.0C158.0 422.4 159.4 423.9 160.7 423.3C162.0 422.7 163.3 420.6 164.7 418.6C166.0 416.6 167.5 412.0 168.8 411.2C170.2 410.4 171.5 412.2 172.8 413.9C174.1 415.6 175.5 418.7 176.8 421.3C178.2 423.9 179.6 426.9 180.9 429.4C182.2 431.9 183.6 434.1 184.9 436.1C186.2 438.1 187.7 440.4 188.9 441.5C190.1 442.6 191.0 443.5 192.0 443.0C193.0 442.5 194.0 439.9 195.0 438.5C196.0 437.1 197.0 435.3 198.0 434.5C199.0 433.7 199.7 432.9 201.0 433.5C202.3 434.1 204.1 435.9 205.7 438.3C207.3 440.7 208.9 444.8 210.5 447.7C212.1 450.6 213.7 453.5 215.2 455.6C216.7 457.7 218.2 460.1 219.5 460.5C220.8 460.9 221.9 459.4 223.0 458.0C224.1 456.6 224.6 454.6 226.2 452.4C227.8 450.2 230.7 445.7 232.5 444.6C234.3 443.6 235.6 444.5 237.2 446.1C238.8 447.7 240.5 451.5 242.0 454.0C243.5 456.5 244.4 459.1 246.0 461.0C247.6 462.9 250.0 465.3 251.8 465.5C253.6 465.7 255.0 463.1 257.0 462.0C259.0 460.9 261.5 459.7 263.8 458.6C266.1 457.5 268.7 456.4 270.7 455.2C272.7 454.0 274.4 453.2 275.9 451.7C277.4 450.2 278.3 447.6 279.8 446.1C281.3 444.7 284.1 443.5 285.0 443.0" stroke="#1a1aff" stroke-width="3.2"/>
<path d="M121.0 438.1C121.8 438.4 124.1 439.1 125.8 440.1C127.5 441.1 129.3 443.8 131.1 444.1C132.9 444.4 134.7 442.5 136.5 442.1C138.3 441.7 140.1 441.8 141.9 441.5C143.7 441.2 145.5 440.6 147.3 440.1C149.1 439.7 150.8 439.1 152.6 438.8C154.4 438.5 156.2 438.6 158.0 438.1C159.8 437.7 161.8 437.3 163.4 436.1C165.0 434.9 166.1 432.2 167.4 430.7C168.8 429.2 169.9 427.6 171.5 427.3C173.1 427.0 175.0 428.2 176.8 428.7C178.6 429.1 180.4 430.0 182.2 430.0C184.0 430.0 186.0 428.5 187.6 428.7C189.2 428.9 190.4 429.8 191.6 431.4C192.8 433.0 193.4 435.6 194.7 438.3C196.0 441.0 197.8 446.6 199.4 447.7C201.0 448.8 202.6 446.2 204.2 444.6C205.8 443.0 207.3 439.4 208.9 438.3C210.5 437.2 212.0 438.1 213.6 438.3C215.2 438.6 216.7 440.3 218.3 439.8C219.9 439.3 221.5 436.9 223.1 435.1C224.7 433.3 226.2 430.2 227.8 428.8C229.4 427.4 230.9 427.0 232.5 426.5C234.1 426.0 235.6 425.3 237.2 425.7C238.8 426.1 240.4 427.0 242.0 428.8C243.6 430.6 244.9 433.8 246.7 436.7C248.5 439.6 250.9 443.7 253.0 446.1C255.1 448.5 257.2 449.7 259.3 450.9C261.4 452.1 263.5 452.8 265.6 453.2C267.7 453.6 269.8 453.6 271.9 453.2C274.0 452.8 276.0 451.8 278.2 450.9C280.4 450.0 283.9 448.2 285.0 447.7" stroke="#ffa619" stroke-width="2.8"/>
<path d="M121.0 444.8C121.8 445.1 124.1 445.8 125.8 446.8C127.5 447.8 129.1 449.8 131.1 450.9C133.1 452.0 136.0 453.3 137.8 453.5C139.6 453.7 140.3 452.6 141.9 452.2C143.5 451.8 145.8 450.0 147.3 451.0C148.8 452.0 149.5 455.7 150.9 458.0C152.3 460.3 154.3 464.5 155.8 464.8C157.3 465.1 158.4 461.8 159.9 459.9C161.4 458.0 163.0 454.8 164.7 453.5C166.4 452.2 168.5 452.4 170.1 452.2C171.7 452.0 172.8 452.6 174.1 452.2C175.4 451.8 176.6 450.3 178.2 449.5C179.8 448.7 181.7 447.5 183.5 447.5C185.3 447.5 187.3 448.8 188.9 449.5C190.5 450.2 191.5 451.2 193.0 452.0C194.5 452.8 195.8 454.4 197.9 454.0C200.0 453.6 203.1 450.6 205.7 449.3C208.3 448.0 211.0 447.4 213.6 446.1C216.2 444.8 218.9 442.7 221.5 441.4C224.1 440.1 227.0 440.1 229.4 438.3C231.8 436.5 233.9 432.8 235.7 430.4C237.5 428.0 238.8 425.9 240.4 424.1C242.0 422.3 243.5 419.7 245.1 419.4C246.7 419.1 248.2 420.9 249.8 422.5C251.4 424.1 253.3 427.2 254.6 428.8C255.9 430.4 256.4 432.5 257.7 432.0C259.0 431.5 260.8 428.1 262.4 425.7C264.0 423.3 265.6 420.2 267.2 417.8C268.8 415.4 270.3 413.1 271.9 411.5C273.5 409.9 275.0 408.9 276.6 408.3C278.2 407.7 279.9 407.6 281.3 407.6C282.7 407.6 284.4 408.2 285.0 408.3" stroke="#ff2424" stroke-width="2.8"/>
</g>
<path d="M75.5 545.2v-3.6M110.5 545.2v-3.6M145.5 545.2v-3.6M180.5 545.2v-3.6M216.5 545.2v-3.6M251.5 545.2v-3.6M49.4 344.5h3.6M49.4 375.5h3.6M49.4 407.5h3.6M49.4 438.5h3.6M49.4 470.5h3.6M49.4 501.5h3.6M49.4 533.5h3.6" stroke="#555" stroke-width="1" fill="none"/>
<rect x="49.4" y="325.3" width="235.1" height="220.2" fill="none" stroke="#303030" stroke-width="1.3"/>
<text x="46.0" y="348.0" font-size="13.4" text-anchor="end" fill="#000" textLength="19.6" lengthAdjust="spacingAndGlyphs">0.6</text>
<text x="46.0" y="379.5" font-size="13.4" text-anchor="end" fill="#000" textLength="19.6" lengthAdjust="spacingAndGlyphs">0.4</text>
<text x="46.0" y="411.0" font-size="13.4" text-anchor="end" fill="#000" textLength="19.6" lengthAdjust="spacingAndGlyphs">0.2</text>
<text x="46.0" y="442.5" font-size="13.4" text-anchor="end" fill="#000" textLength="19.6" lengthAdjust="spacingAndGlyphs">0.0</text>
<text x="46.0" y="474.0" font-size="13.4" text-anchor="end" fill="#000" textLength="29.2" lengthAdjust="spacingAndGlyphs">−0.2</text>
<text x="46.0" y="505.5" font-size="13.4" text-anchor="end" fill="#000" textLength="29.2" lengthAdjust="spacingAndGlyphs">−0.4</text>
<text x="46.0" y="537.0" font-size="13.4" text-anchor="end" fill="#000" textLength="29.2" lengthAdjust="spacingAndGlyphs">−0.6</text>
<text x="75.4" y="557.9" font-size="13.7" text-anchor="middle" fill="#000" textLength="31.2" lengthAdjust="spacingAndGlyphs">1880</text>
<text x="110.6" y="557.9" font-size="13.7" text-anchor="middle" fill="#000" textLength="31.2" lengthAdjust="spacingAndGlyphs">1900</text>
<text x="145.7" y="557.9" font-size="13.7" text-anchor="middle" fill="#000" textLength="31.2" lengthAdjust="spacingAndGlyphs">1920</text>
<text x="180.9" y="557.9" font-size="13.7" text-anchor="middle" fill="#000" textLength="31.2" lengthAdjust="spacingAndGlyphs">1940</text>
<text x="216.0" y="557.9" font-size="13.7" text-anchor="middle" fill="#000" textLength="31.2" lengthAdjust="spacingAndGlyphs">1960</text>
<text x="251.2" y="557.9" font-size="13.7" text-anchor="middle" fill="#000" textLength="31.2" lengthAdjust="spacingAndGlyphs">1980</text>
<clipPath id="clipd"><rect x="367.5" y="325.3" width="234.8" height="219.9"/></clipPath>
<path d="M389.5 325.3V545.2M424.5 325.3V545.2M460.5 325.3V545.2M496.5 325.3V545.2M531.5 325.3V545.2M567.5 325.3V545.2M367.5 354.5H602.3M367.5 400.5H602.3M367.5 447.5H602.3M367.5 493.5H602.3M367.5 540.5H602.3" stroke="#b0b0b0" stroke-width="1" fill="none"/>
<g clip-path="url(#clipd)">
<path d="M366.0 395.0C366.7 393.2 368.8 386.7 370.0 384.0C371.2 381.3 372.0 380.1 373.0 379.0C374.0 377.9 375.1 377.0 376.1 377.7C377.1 378.4 378.2 381.2 379.0 383.0C379.8 384.8 379.6 385.2 380.8 388.4C382.0 391.5 384.6 397.4 386.2 401.9C387.8 406.4 389.1 411.4 390.2 415.3C391.3 419.2 391.9 422.4 392.9 425.0C393.9 427.6 394.6 429.5 396.0 431.0C397.4 432.5 398.6 434.5 401.0 434.1C403.4 433.7 407.9 431.0 410.4 428.8C412.8 426.6 413.9 422.9 415.7 420.7C417.5 418.4 419.5 415.3 421.1 415.3C422.7 415.3 423.5 418.4 425.1 420.7C426.7 422.9 428.7 427.7 430.5 428.8C432.3 429.9 434.1 427.6 435.9 427.4C437.7 427.2 439.6 427.6 441.3 427.4C443.0 427.2 444.2 427.2 446.0 426.1C447.8 425.0 450.6 423.2 452.2 420.5C453.8 417.8 454.5 413.3 455.5 410.0C456.5 406.7 457.2 403.3 458.3 400.7C459.4 398.1 460.7 395.1 462.1 394.6C463.5 394.1 465.3 397.5 466.7 397.7C468.1 397.9 468.9 396.9 470.5 396.0C472.1 395.1 474.8 393.7 476.6 392.0C478.4 390.3 479.7 387.5 481.2 386.0C482.7 384.5 484.1 383.9 485.7 383.0C487.3 382.1 489.0 381.2 491.0 380.5C493.0 379.8 496.2 379.9 497.9 379.0C499.6 378.1 500.0 376.5 501.0 374.8C502.0 373.1 503.0 370.0 504.0 368.7C505.0 367.4 506.1 366.4 507.1 367.2C508.1 368.0 509.4 371.3 510.1 373.3C510.9 375.3 510.8 377.4 511.6 379.4C512.4 381.4 513.6 383.4 514.7 385.5C515.8 387.6 516.9 390.9 518.0 392.0C519.1 393.1 520.2 391.6 521.5 392.3C522.8 393.0 524.4 394.7 526.0 396.0C527.6 397.3 529.7 396.9 531.1 400.3C532.5 403.7 533.0 413.0 534.4 416.5C535.8 420.0 537.6 420.8 539.2 421.3C540.8 421.8 542.4 419.4 544.0 419.7C545.6 420.0 547.3 423.2 548.9 422.9C550.5 422.6 552.1 419.5 553.7 418.1C555.3 416.8 556.9 416.4 558.5 414.8C560.1 413.2 562.0 410.3 563.4 408.4C564.8 406.5 565.2 403.0 566.6 403.5C568.0 404.0 569.9 411.3 571.5 411.6C573.1 411.9 575.0 408.4 576.3 405.2C577.6 402.0 578.4 396.3 579.5 392.3C580.6 388.3 581.6 382.4 582.7 381.0C583.8 379.6 584.9 382.1 586.0 384.2C587.1 386.3 588.1 393.1 589.2 393.9C590.3 394.7 591.3 392.0 592.4 389.0C593.5 386.0 594.5 380.4 595.6 376.1C596.7 371.8 597.5 368.4 598.9 363.2C600.3 358.0 603.1 348.0 604.0 345.0L604.0 466.0C603.0 466.7 599.8 468.2 598.0 470.0C596.2 471.8 594.7 474.2 593.0 477.0C591.3 479.8 589.7 484.0 588.0 487.0C586.3 490.0 585.0 493.3 583.0 495.0C581.0 496.7 578.2 496.2 576.0 497.0C573.8 497.8 571.6 499.4 570.0 500.0C568.4 500.6 567.4 500.0 566.1 500.8C564.8 501.6 563.6 502.1 562.3 504.6C561.0 507.1 559.8 510.9 558.5 516.0C557.2 521.1 556.1 529.8 554.7 535.1C553.3 540.4 551.6 546.2 550.0 548.0C548.4 549.8 546.6 548.8 545.2 546.0C543.8 543.2 542.7 537.9 541.4 531.3C540.1 524.7 538.7 511.7 537.6 506.5C536.5 501.3 535.9 501.6 535.0 500.0C534.1 498.4 533.2 497.0 532.0 497.0C530.8 497.0 529.5 499.5 528.0 500.0C526.5 500.5 524.7 500.5 523.0 500.0C521.3 499.5 519.7 497.2 518.0 497.0C516.3 496.8 514.7 498.5 513.0 499.0C511.3 499.5 509.7 500.3 508.0 500.0C506.3 499.7 504.7 498.0 503.0 497.0C501.3 496.0 499.7 494.9 498.0 494.0C496.3 493.1 494.3 492.9 492.7 491.9C491.1 490.8 490.3 489.4 488.6 487.7C486.9 486.0 484.5 481.8 482.4 481.5C480.3 481.2 478.3 485.7 476.2 485.7C474.1 485.7 471.6 483.1 470.0 481.5C468.4 479.9 468.1 474.9 466.6 476.0C465.1 477.1 462.4 484.8 460.9 488.0C459.4 491.2 458.6 492.4 457.5 495.0C456.4 497.6 455.2 501.3 454.1 503.8C453.0 506.3 452.1 507.8 451.0 510.0C449.9 512.2 448.6 515.5 447.4 517.0C446.2 518.5 445.1 518.6 444.0 519.0C442.9 519.4 441.8 519.8 440.5 519.6C439.2 519.4 437.7 519.1 436.4 518.0C435.1 516.9 433.9 515.5 432.7 513.0C431.4 510.5 430.2 506.2 428.9 503.0C427.6 499.8 426.3 496.2 425.0 494.0C423.7 491.8 422.2 490.0 421.0 490.0C419.8 490.0 418.6 491.8 417.6 494.0C416.6 496.2 415.9 500.0 415.0 503.0C414.1 506.0 413.3 508.5 412.5 512.0C411.7 515.5 410.8 520.9 410.0 524.0C409.2 527.1 408.2 530.3 407.5 530.6C406.8 530.9 406.2 528.4 405.5 526.0C404.8 523.6 403.9 519.5 403.0 516.0C402.1 512.5 401.0 508.5 400.0 505.0C399.0 501.5 397.9 498.8 397.0 495.0C396.1 491.2 395.2 486.3 394.5 482.0C393.8 477.7 393.9 472.9 392.9 469.3C391.9 465.7 390.3 461.5 388.4 460.4C386.5 459.3 383.9 461.5 381.7 462.6C379.5 463.7 377.2 466.7 375.0 467.1C372.8 467.5 369.7 465.3 368.2 464.8C366.7 464.3 366.4 464.1 366.0 464.0Z" fill="#708090" fill-opacity="0.28"/>
<path d="M366.0 412.0C366.3 412.3 366.2 414.1 368.0 414.0C369.8 413.9 374.2 411.5 376.8 411.3C379.4 411.1 381.3 412.2 383.5 412.6C385.7 413.1 388.2 413.3 390.2 414.0C392.2 414.7 394.0 415.4 395.6 416.7C397.2 418.0 398.3 420.9 399.6 422.0C400.9 423.1 402.2 423.8 403.6 423.4C405.0 423.0 406.4 421.4 407.7 419.4C409.0 417.4 410.4 414.7 411.7 411.3C413.0 407.9 414.5 401.9 415.7 399.2C416.9 396.5 418.0 394.6 419.1 395.0C420.2 395.4 421.3 399.0 422.5 401.9C423.7 404.8 425.2 411.7 426.5 412.6C427.8 413.5 429.2 408.4 430.5 407.3C431.8 406.2 433.1 405.7 434.5 405.9C435.9 406.1 437.7 407.7 438.6 408.6C439.5 409.5 439.1 410.2 440.0 411.4C440.9 412.6 442.5 416.0 443.8 416.0C445.1 416.0 446.2 412.7 447.6 411.4C449.0 410.1 450.7 408.4 452.2 408.4C453.7 408.4 455.4 410.6 456.8 411.4C458.2 412.1 459.1 413.7 460.6 412.9C462.1 412.1 464.2 408.6 465.9 406.8C467.5 405.0 469.0 403.5 470.5 402.0C472.0 400.5 473.6 399.2 475.1 398.0C476.6 396.8 478.1 396.3 479.6 395.0C481.1 393.7 482.7 391.8 484.2 390.0C485.7 388.2 487.3 385.8 488.8 384.0C490.3 382.2 491.9 380.0 493.4 379.5C494.9 379.0 496.6 379.9 497.9 381.0C499.2 382.1 500.0 385.5 501.0 386.0C502.0 386.5 502.7 385.4 504.0 384.0C505.3 382.6 507.1 377.6 508.6 377.9C510.1 378.1 511.9 383.0 513.2 385.5C514.5 388.0 515.1 390.9 516.2 393.0C517.3 395.1 518.4 397.8 519.8 398.0C521.2 398.2 523.1 393.6 524.7 394.0C526.3 394.4 528.2 397.6 529.5 400.3C530.8 403.0 531.6 407.3 532.7 410.0C533.8 412.7 534.6 416.5 536.0 416.5C537.4 416.5 539.2 410.0 540.8 410.0C542.4 410.0 544.2 413.6 545.6 416.5C547.0 419.4 547.8 425.6 548.9 427.7C550.0 429.8 550.8 429.9 552.1 429.4C553.4 428.9 555.3 426.4 556.9 424.5C558.5 422.6 560.2 420.2 561.8 418.1C563.4 416.0 565.0 412.2 566.6 411.6C568.2 411.1 569.9 412.7 571.5 414.8C573.1 416.9 575.0 422.1 576.3 424.5C577.6 426.9 578.1 429.9 579.5 429.4C580.9 428.9 582.8 424.3 584.4 421.3C586.0 418.3 587.6 414.6 589.2 411.6C590.8 408.6 592.4 405.1 594.0 403.5C595.6 401.9 597.2 403.0 598.9 401.9C600.6 400.8 603.1 397.8 604.0 397.0L604.0 466.0C603.1 466.7 600.3 468.4 598.4 470.4C596.5 472.4 594.6 474.8 592.7 478.0C590.8 481.2 588.6 486.2 587.0 489.4C585.4 492.6 585.1 495.4 583.2 497.0C581.3 498.6 578.1 498.0 575.6 499.0C573.1 500.0 570.3 502.5 568.0 503.0C565.7 503.5 564.0 502.5 562.0 502.0C560.0 501.5 558.0 500.8 556.0 500.0C554.0 499.2 551.7 497.3 550.0 497.0C548.3 496.7 547.3 498.2 546.0 498.0C544.7 497.8 543.3 497.0 542.0 496.0C540.7 495.0 539.4 493.4 538.0 492.0C536.6 490.6 535.3 489.4 533.9 487.7C532.5 485.9 531.5 482.2 529.8 481.5C528.1 480.8 525.7 483.6 523.6 483.6C521.5 483.6 519.5 481.1 517.4 481.5C515.3 481.9 512.9 485.7 511.2 485.7C509.5 485.7 508.5 483.2 507.1 481.5C505.7 479.8 504.4 475.4 503.0 475.4C501.6 475.4 499.9 479.2 498.9 481.5C497.9 483.8 498.0 486.9 497.0 489.0C496.0 491.1 494.5 493.5 493.0 494.0C491.5 494.5 489.8 492.5 488.0 492.0C486.2 491.5 484.0 491.3 482.0 491.0C480.0 490.7 477.9 491.7 476.0 490.0C474.1 488.3 471.9 483.5 470.3 481.0C468.7 478.5 467.9 475.6 466.6 475.0C465.4 474.4 464.4 476.9 462.8 477.7C461.2 478.4 458.7 478.6 457.1 479.5C455.5 480.4 454.3 482.0 453.4 483.3C452.5 484.6 452.4 486.8 451.5 487.1C450.6 487.4 448.9 485.8 447.7 485.2C446.4 484.6 445.2 483.4 444.0 483.3C442.8 483.2 441.5 484.6 440.2 484.3C438.9 484.0 438.0 482.2 436.4 481.4C434.8 480.6 432.7 479.2 430.8 479.5C428.9 479.8 426.7 481.7 425.1 483.3C423.5 484.9 422.6 487.1 421.4 489.0C420.1 490.9 418.9 494.3 417.6 494.6C416.3 494.9 415.1 492.7 413.8 490.8C412.5 488.9 411.3 485.4 410.0 483.3C408.7 481.2 407.3 479.2 406.0 478.0C404.7 476.8 403.4 476.0 402.0 476.0C400.6 476.0 398.5 476.9 397.4 478.0C396.2 479.1 396.2 480.1 395.1 482.8C394.0 485.5 392.2 490.6 390.7 494.0C389.2 497.4 387.7 500.9 386.2 503.0C384.7 505.1 383.2 506.3 381.7 506.3C380.2 506.3 378.7 505.1 377.2 503.0C375.7 500.9 374.2 495.1 372.7 494.0C371.2 492.9 369.3 495.9 368.2 496.2C367.1 496.5 366.4 496.0 366.0 496.0Z" fill="#0000ff" fill-opacity="0.25"/>
</g>
<g clip-path="url(#clipd)" fill="none" stroke-linejoin="round" stroke-linecap="round">
<path d="M367.5 401.0C367.9 402.5 369.0 406.9 370.0 410.0C371.0 413.1 372.4 418.9 373.5 419.6C374.6 420.3 375.5 417.3 376.5 414.0C377.5 410.7 378.5 404.3 379.5 400.0C380.5 395.7 381.5 390.8 382.5 388.0C383.5 385.2 384.6 383.0 385.4 383.0C386.2 383.0 386.8 385.2 387.5 388.0C388.2 390.8 388.9 396.0 389.5 400.0C390.1 404.0 390.4 407.8 391.0 412.0C391.6 416.2 392.3 419.5 393.0 425.0C393.7 430.5 394.4 440.2 395.0 445.0C395.6 449.8 395.5 455.5 396.3 453.6C397.1 451.7 398.5 437.6 399.6 433.5C400.7 429.4 401.9 427.5 403.0 429.0C404.1 430.5 405.1 435.3 406.4 442.4C407.7 449.5 409.7 467.0 410.8 471.6C411.9 476.2 412.2 471.1 413.0 470.0C413.8 468.9 414.2 470.9 415.3 464.8C416.4 458.7 418.8 438.3 419.8 433.5C420.8 428.7 420.9 431.8 421.5 436.0C422.1 440.2 422.3 448.7 423.2 458.8C424.1 468.9 425.7 485.2 427.0 496.5C428.3 507.8 429.7 520.3 430.8 526.6C431.9 532.9 432.4 533.9 433.6 534.2C434.9 534.5 436.7 528.5 438.3 528.5C439.9 528.5 441.8 532.3 443.0 534.2C444.2 536.1 444.7 541.4 445.8 539.8C446.9 538.2 448.3 531.3 449.6 524.7C450.9 518.1 452.3 506.1 453.4 500.3C454.5 494.5 455.1 489.7 456.0 490.0C456.9 490.3 457.9 498.7 459.0 502.0C460.1 505.3 461.7 509.0 462.8 510.0C463.9 511.0 464.7 511.3 465.6 508.0C466.5 504.7 467.4 497.7 468.4 490.0C469.3 482.3 470.4 469.0 471.3 462.0C472.2 455.0 472.7 452.0 473.5 448.0C474.3 444.0 475.2 440.0 476.0 438.0C476.8 436.0 477.2 439.0 478.1 435.8C479.0 432.6 480.2 422.1 481.2 419.0C482.2 415.9 483.2 417.5 484.2 417.5C485.2 417.5 486.3 419.5 487.3 419.0C488.3 418.5 489.3 416.5 490.3 414.5C491.3 412.5 492.4 408.3 493.4 406.8C494.4 405.3 495.4 405.3 496.4 405.3C497.4 405.3 498.5 406.6 499.4 406.8C500.3 407.1 500.9 404.8 501.7 406.8C502.5 408.8 503.1 414.2 504.0 419.0C504.9 423.8 506.3 431.0 507.1 435.8C507.9 440.6 508.4 445.3 509.0 448.0C509.6 450.7 510.2 452.5 511.0 452.0C511.8 451.5 512.7 448.7 513.5 445.0C514.3 441.3 515.2 434.2 516.0 430.0C516.8 425.8 517.7 420.8 518.5 420.0C519.3 419.2 520.1 422.0 521.0 425.0C521.9 428.0 522.8 434.7 524.0 438.0C525.2 441.3 526.8 443.8 528.0 445.0C529.2 446.2 529.7 442.0 531.0 445.0C532.3 448.0 534.0 457.3 535.7 462.8C537.4 468.3 539.8 474.5 541.4 478.0C543.0 481.5 543.9 479.9 545.2 483.7C546.5 487.5 547.7 494.8 549.0 500.8C550.3 506.8 551.7 514.7 552.8 519.8C553.9 524.9 554.8 530.0 555.7 531.3C556.7 532.6 557.5 532.6 558.5 527.4C559.5 522.2 560.4 511.1 561.4 500.0C562.4 488.9 563.1 467.7 564.2 460.9C565.3 454.1 566.7 456.8 568.0 459.0C569.3 461.2 570.5 469.4 571.8 474.2C573.1 478.9 574.3 487.2 575.6 487.5C576.9 487.8 578.1 481.2 579.4 476.1C580.7 471.0 581.9 459.0 583.2 457.1C584.5 455.2 585.7 461.2 587.0 464.7C588.3 468.2 589.5 476.4 590.8 478.0C592.1 479.6 593.3 478.0 594.6 474.2C595.9 470.4 597.1 460.9 598.4 455.2C599.7 449.5 601.3 443.9 602.2 440.0C603.1 436.1 603.7 433.3 604.0 432.0" stroke="#4a4a4a" stroke-width="3.0"/>
<path d="M367.5 376.0C368.1 377.8 369.8 383.7 371.0 387.0C372.2 390.3 373.5 395.3 374.6 396.0C375.7 396.7 376.5 394.0 377.5 391.0C378.5 388.0 379.5 381.9 380.5 378.0C381.5 374.1 382.6 369.5 383.5 367.5C384.4 365.5 384.9 365.1 385.6 366.0C386.3 366.9 386.9 369.0 387.5 373.0C388.1 377.0 388.7 384.2 389.2 390.0C389.7 395.8 390.2 402.2 390.7 408.0C391.2 413.8 391.5 419.8 392.0 425.0C392.5 430.2 393.0 436.2 393.6 439.5C394.2 442.8 394.8 446.2 395.6 444.9C396.4 443.6 397.4 434.5 398.3 431.5C399.2 428.5 400.0 426.5 400.9 426.7C401.8 426.9 402.7 429.4 403.6 432.8C404.5 436.2 405.5 442.5 406.3 447.0C407.1 451.5 407.8 456.8 408.5 460.0C409.2 463.2 410.1 465.7 410.8 466.0C411.6 466.3 412.2 464.7 413.0 462.0C413.8 459.3 414.6 454.0 415.3 450.0C416.1 446.0 416.8 441.0 417.5 438.0C418.2 435.0 419.2 431.7 419.8 432.0C420.4 432.3 420.9 436.7 421.4 440.0C421.9 443.3 422.4 447.3 423.0 452.0C423.6 456.7 424.1 460.8 425.1 468.2C426.1 475.6 427.6 489.4 428.9 496.5C430.2 503.6 431.3 509.0 432.7 510.6C434.1 512.2 435.8 505.4 437.4 505.9C439.0 506.4 440.7 511.2 442.1 513.4C443.5 515.6 444.6 520.4 445.8 519.1C447.1 517.9 448.3 511.5 449.6 505.9C450.9 500.2 452.4 488.6 453.4 485.2C454.3 481.8 454.4 482.1 455.3 485.2C456.2 488.3 457.8 499.3 459.0 504.0C460.2 508.7 461.7 512.1 462.8 513.4C463.9 514.7 464.7 515.1 465.6 511.6C466.5 508.2 467.4 501.5 468.4 492.7C469.3 483.9 470.5 466.9 471.3 458.8C472.1 450.7 472.6 447.6 473.2 443.8C473.8 440.0 474.3 440.4 475.1 435.8C475.9 431.2 477.1 421.9 478.1 416.0C479.1 410.1 480.3 403.4 481.2 400.7C482.1 398.0 482.6 399.2 483.4 400.0C484.1 400.8 484.8 404.0 485.7 405.3C486.6 406.6 487.6 407.9 488.8 407.6C490.0 407.4 491.5 405.5 492.6 403.8C493.7 402.1 494.7 400.0 495.6 397.7C496.5 395.4 497.1 391.6 497.9 390.1C498.7 388.6 499.4 388.0 500.2 388.5C501.0 389.0 501.9 389.8 502.5 393.1C503.1 396.4 503.5 403.3 504.0 408.4C504.5 413.5 505.0 418.3 505.5 423.6C506.0 428.9 506.5 434.6 507.0 440.0C507.5 445.4 508.0 451.8 508.5 456.0C509.0 460.2 509.6 464.3 510.2 465.0C510.8 465.7 511.5 461.7 512.0 460.0C512.5 458.3 512.6 459.0 513.3 454.7C514.0 450.4 515.5 439.9 516.4 434.1C517.3 428.3 517.8 422.7 518.5 420.0C519.2 417.3 519.8 417.2 520.5 418.0C521.2 418.8 521.6 420.6 522.5 425.0C523.4 429.4 524.5 440.6 525.7 444.4C527.0 448.2 528.3 445.4 530.0 448.0C531.7 450.6 533.8 455.9 535.7 460.0C537.6 464.1 539.8 468.4 541.4 472.3C543.0 476.2 543.9 478.9 545.2 483.7C546.5 488.4 547.7 494.8 549.0 500.8C550.3 506.8 551.7 514.7 552.8 519.8C553.9 524.9 554.8 530.0 555.7 531.3C556.7 532.6 557.5 531.5 558.5 527.4C559.5 523.3 560.3 515.0 561.4 506.5C562.5 497.9 564.1 481.5 565.2 476.1C566.3 470.7 566.9 472.0 568.0 474.2C569.1 476.4 570.5 484.6 571.8 489.4C573.1 494.1 574.5 501.4 575.6 502.7C576.7 504.0 577.5 501.1 578.5 497.0C579.5 492.9 580.3 482.8 581.3 478.0C582.2 473.2 583.2 469.1 584.2 468.5C585.2 467.9 586.0 472.0 587.0 474.2C588.0 476.4 588.9 481.2 589.9 481.8C590.9 482.4 591.8 481.8 592.7 478.0C593.7 474.2 594.7 464.7 595.6 459.0C596.5 453.3 597.6 450.3 598.4 443.8C599.2 437.3 599.7 427.3 600.5 420.0C601.3 412.7 602.6 403.3 603.0 400.0" stroke="#262626" stroke-width="3.0"/>
<path d="M367.5 423.0C369.1 423.4 374.1 424.6 377.2 425.6C380.3 426.6 383.9 426.9 386.2 429.0C388.4 431.1 389.2 431.9 390.7 437.9C392.2 443.9 393.6 457.7 395.1 464.8C396.6 471.9 398.1 477.9 399.6 480.5C401.1 483.1 402.2 481.6 404.1 480.5C406.0 479.4 409.2 476.6 410.8 474.0C412.4 471.4 412.9 468.1 414.0 465.0C415.1 461.9 416.2 457.4 417.6 455.1C419.0 452.8 420.7 450.4 422.3 451.3C423.9 452.2 425.4 456.9 427.0 460.7C428.6 464.5 430.1 472.2 431.7 473.9C433.3 475.6 434.7 472.1 436.4 471.1C438.1 470.2 440.2 469.0 442.1 468.2C444.0 467.4 445.8 468.6 447.7 466.4C449.6 464.2 451.8 459.2 453.4 455.1C455.0 451.0 455.7 444.9 457.1 442.0C458.5 439.1 460.2 438.7 462.0 438.0C463.8 437.3 465.8 438.2 468.0 438.0C470.2 437.8 473.0 437.7 475.0 437.0C477.0 436.3 478.2 435.0 480.0 434.0C481.8 433.0 483.7 431.9 485.7 431.2C487.7 430.5 489.8 429.4 491.8 429.7C493.8 430.0 496.0 431.6 497.9 433.0C499.8 434.4 501.5 437.5 503.0 438.0C504.5 438.5 505.8 436.4 507.1 436.2C508.4 436.0 509.6 436.3 511.0 437.0C512.4 437.7 513.6 439.2 515.4 440.3C517.1 441.4 519.4 443.6 521.5 443.9C523.6 444.2 526.3 441.0 527.9 442.0C529.5 443.0 529.7 445.3 531.0 450.0C532.3 454.7 534.0 464.1 535.7 470.4C537.4 476.6 539.5 484.0 541.4 487.5C543.3 491.0 545.2 491.9 547.1 491.3C549.0 490.7 550.9 486.6 552.8 483.7C554.7 480.8 556.6 477.4 558.5 474.2C560.4 471.0 562.3 467.2 564.2 464.7C566.1 462.2 568.0 461.1 569.9 459.0C571.8 456.9 574.2 455.2 575.6 452.0C577.0 448.8 577.6 444.1 578.5 440.0C579.4 435.9 580.1 430.6 581.1 427.7C582.1 424.8 583.3 422.6 584.4 422.9C585.5 423.2 586.5 427.5 587.6 429.4C588.7 431.3 589.7 434.5 590.8 434.2C591.9 433.9 592.9 430.9 594.0 427.7C595.1 424.5 596.2 419.9 597.3 414.8C598.4 409.7 599.5 401.4 600.5 397.1C601.5 392.8 602.6 390.4 603.0 389.0" stroke="#f2f2f2" stroke-width="3.0"/>
<path d="M367.5 455.5C368.8 455.8 372.6 456.4 375.0 457.0C377.4 457.6 379.8 458.4 381.7 459.2C383.6 459.9 384.7 462.1 386.2 461.5C387.7 460.9 389.2 457.9 390.7 455.9C392.2 453.9 392.8 450.9 395.1 449.5C397.4 448.1 401.3 448.0 404.4 447.5C407.5 447.0 410.7 446.9 413.8 446.6C416.9 446.3 420.1 445.5 423.2 445.6C426.3 445.8 429.5 447.0 432.7 447.5C435.9 448.0 439.0 448.6 442.1 448.5C445.2 448.4 448.8 448.1 451.5 447.0C454.2 445.9 456.2 442.8 458.3 442.0C460.4 441.2 462.0 442.8 464.0 442.5C466.0 442.2 467.3 441.0 470.4 440.0C473.5 439.0 478.9 437.6 482.7 436.6C486.5 435.7 490.0 435.1 493.4 434.3C496.8 433.5 500.2 432.6 503.0 432.0C505.8 431.4 508.1 430.5 510.1 431.0C512.1 431.5 513.4 433.8 515.0 435.0C516.6 436.2 518.1 437.9 519.5 438.2C520.9 438.5 521.7 436.3 523.1 437.0C524.5 437.7 526.2 441.0 527.7 442.4C529.2 443.8 530.6 444.4 532.0 445.5C533.4 446.6 534.7 447.8 536.0 449.0C537.3 450.2 538.6 451.8 540.0 453.0C541.4 454.2 542.4 454.2 544.2 456.0C546.0 457.8 548.5 462.6 550.9 464.0C553.3 465.4 556.0 465.5 558.5 464.7C561.0 463.9 563.6 460.1 566.1 459.0C568.6 457.9 571.2 458.2 573.7 458.1C576.2 458.0 579.1 458.6 581.3 458.1C583.5 457.6 585.1 456.9 587.0 455.2C588.9 453.4 590.8 450.3 592.7 447.6C594.6 444.9 596.7 441.5 598.4 439.0C600.1 436.5 602.2 433.7 603.0 432.6" stroke="#1a1aff" stroke-width="3.2"/>
<path d="M367.5 426.5C369.1 426.9 374.1 428.2 377.2 429.0C380.3 429.8 383.9 429.7 386.2 431.2C388.4 432.7 389.4 433.8 390.7 437.9C392.0 442.0 393.1 449.5 394.0 455.9C394.9 462.2 395.6 470.5 396.3 476.0C397.1 481.5 397.6 486.1 398.5 489.0C399.4 491.9 400.3 494.0 401.6 493.7C402.9 493.4 404.8 490.1 406.3 487.1C407.8 484.2 409.3 480.4 410.8 476.0C412.3 471.6 413.8 465.2 415.3 460.4C416.8 455.5 418.6 449.7 419.8 446.9C421.0 444.1 421.1 443.1 422.3 443.8C423.5 444.5 425.3 448.2 427.0 451.3C428.7 454.4 431.1 460.6 432.7 462.6C434.3 464.6 434.8 464.4 436.4 463.5C438.0 462.6 440.2 459.0 442.1 457.0C444.0 455.0 446.1 453.2 447.7 451.3C449.3 449.4 450.2 447.5 451.5 445.6C452.8 443.7 454.2 441.9 455.3 440.0C456.4 438.1 457.0 435.6 458.3 434.3C459.6 433.0 461.4 432.0 462.9 432.0C464.4 432.0 465.9 433.4 467.4 434.3C468.9 435.2 470.5 437.0 472.0 437.3C473.5 437.6 475.1 436.8 476.6 436.0C478.1 435.2 479.7 434.2 481.2 432.7C482.7 431.2 484.2 429.3 485.7 427.0C487.2 424.7 489.0 420.7 490.3 419.0C491.6 417.3 492.4 416.4 493.4 416.7C494.4 416.9 495.4 418.6 496.4 420.5C497.4 422.4 498.1 426.2 499.4 428.2C500.7 430.2 502.5 431.8 504.0 432.7C505.5 433.6 507.1 433.2 508.6 433.5C510.1 433.8 511.7 434.1 513.2 434.3C514.7 434.5 516.0 434.9 517.7 434.5C519.4 434.1 521.9 432.2 523.6 432.1C525.3 432.0 526.6 433.0 528.0 434.0C529.4 435.0 530.6 435.4 531.9 438.2C533.2 441.0 534.6 446.5 536.0 451.0C537.4 455.5 538.7 461.0 540.1 465.0C541.5 469.0 542.9 474.2 544.2 475.0C545.5 475.8 546.6 473.2 548.0 470.0C549.4 466.8 551.0 459.2 552.8 456.0C554.5 452.8 556.6 452.1 558.5 450.5C560.4 448.9 562.6 446.6 564.2 446.7C565.8 446.8 566.7 449.0 568.0 451.4C569.3 453.8 570.5 458.4 571.8 460.9C573.1 463.4 574.3 466.9 575.6 466.6C576.9 466.3 578.3 461.2 579.4 459.0C580.5 456.8 581.3 453.3 582.3 453.3C583.2 453.3 584.0 455.5 585.1 459.0C586.2 462.5 587.8 470.4 588.9 474.2C590.0 478.0 590.7 481.8 591.8 481.8C592.9 481.8 594.5 478.0 595.6 474.2C596.7 470.4 597.2 464.7 598.4 459.0C599.6 453.3 602.2 443.2 603.0 440.0" stroke="#ffa619" stroke-width="2.8"/>
<path d="M367.5 426.5C369.1 427.1 374.1 428.9 377.2 430.1C380.3 431.3 383.2 432.6 386.2 433.5C389.2 434.4 392.1 435.0 395.1 435.7C398.1 436.4 401.1 437.1 404.1 437.9C407.1 438.6 410.1 439.4 413.1 440.2C416.1 440.9 419.5 441.8 422.1 442.4C424.7 443.0 426.5 443.1 428.9 443.8C431.3 444.5 433.9 445.4 436.4 446.6C438.9 447.9 441.5 449.6 444.0 451.3C446.5 453.0 449.3 455.8 451.5 457.0C453.7 458.2 455.2 457.6 457.1 458.8C459.0 460.1 460.9 462.4 462.8 464.5C464.7 466.6 466.2 470.0 468.4 471.1C470.6 472.2 473.9 471.7 476.2 471.2C478.5 470.7 480.3 467.4 482.4 468.1C484.5 468.8 486.6 472.8 488.6 475.4C490.7 478.0 492.6 481.9 494.7 483.6C496.8 485.3 498.8 486.4 500.9 485.7C503.0 485.0 505.0 481.1 507.1 479.5C509.2 477.9 511.2 476.4 513.3 476.4C515.4 476.4 517.4 478.6 519.5 479.5C521.6 480.4 523.6 481.3 525.7 481.5C527.8 481.7 530.2 480.4 531.9 480.5C533.6 480.6 534.1 482.5 535.7 481.8C537.3 481.1 539.5 478.6 541.4 476.1C543.3 473.6 545.2 468.8 547.1 466.6C549.0 464.4 550.9 463.6 552.8 462.8C554.7 462.0 556.6 463.2 558.5 461.9C560.4 460.6 562.6 458.5 564.2 455.2C565.8 451.9 566.7 446.3 568.2 442.3C569.7 438.3 571.5 434.5 573.1 431.0C574.7 427.5 576.3 424.5 577.9 421.3C579.5 418.1 581.1 414.3 582.7 411.6C584.3 408.9 586.0 406.6 587.6 405.2C589.2 403.8 591.1 403.5 592.4 403.5C593.7 403.5 594.5 405.2 595.6 405.2C596.7 405.2 597.7 404.9 598.9 403.5C600.1 402.1 602.3 398.2 603.0 397.1" stroke="#ff2424" stroke-width="2.8"/>
</g>
<path d="M389.5 545.2v-3.6M424.5 545.2v-3.6M460.5 545.2v-3.6M496.5 545.2v-3.6M531.5 545.2v-3.6M567.5 545.2v-3.6M367.5 354.5h3.6M367.5 400.5h3.6M367.5 447.5h3.6M367.5 493.5h3.6M367.5 540.5h3.6" stroke="#555" stroke-width="1" fill="none"/>
<rect x="367.5" y="325.3" width="234.8" height="220.2" fill="none" stroke="#303030" stroke-width="1.3"/>
<text x="364.1" y="357.7" font-size="13.4" text-anchor="end" fill="#000" textLength="19.6" lengthAdjust="spacingAndGlyphs">0.4</text>
<text x="364.1" y="404.3" font-size="13.4" text-anchor="end" fill="#000" textLength="19.6" lengthAdjust="spacingAndGlyphs">0.2</text>
<text x="364.1" y="450.9" font-size="13.4" text-anchor="end" fill="#000" textLength="19.6" lengthAdjust="spacingAndGlyphs">0.0</text>
<text x="364.1" y="497.5" font-size="13.4" text-anchor="end" fill="#000" textLength="29.2" lengthAdjust="spacingAndGlyphs">−0.2</text>
<text x="364.1" y="544.1" font-size="13.4" text-anchor="end" fill="#000" textLength="29.2" lengthAdjust="spacingAndGlyphs">−0.4</text>
<text x="389.2" y="557.9" font-size="13.7" text-anchor="middle" fill="#000" textLength="31.2" lengthAdjust="spacingAndGlyphs">1880</text>
<text x="424.8" y="557.9" font-size="13.7" text-anchor="middle" fill="#000" textLength="31.2" lengthAdjust="spacingAndGlyphs">1900</text>
<text x="460.4" y="557.9" font-size="13.7" text-anchor="middle" fill="#000" textLength="31.2" lengthAdjust="spacingAndGlyphs">1920</text>
<text x="496.0" y="557.9" font-size="13.7" text-anchor="middle" fill="#000" textLength="31.2" lengthAdjust="spacingAndGlyphs">1940</text>
<text x="531.6" y="557.9" font-size="13.7" text-anchor="middle" fill="#000" textLength="31.2" lengthAdjust="spacingAndGlyphs">1960</text>
<text x="567.2" y="557.9" font-size="13.7" text-anchor="middle" fill="#000" textLength="31.2" lengthAdjust="spacingAndGlyphs">1980</text>
<rect x="90.5" y="42.5" width="157.0" height="57.8" rx="2.5" fill="#fff" fill-opacity="0.55" stroke="#a0a0a0" stroke-width="1"/>
<path d="M96.4 50.4H112.9" stroke="#262626" stroke-width="2.6"/>
<text x="123.0" y="53.8" font-size="10.2" text-anchor="start" fill="#000" textLength="54.6" lengthAdjust="spacingAndGlyphs">HadCRUT4</text>
<path d="M96.4 65.4H112.9" stroke="#4a4a4a" stroke-width="2.6"/>
<text x="123.0" y="68.9" font-size="10.2" text-anchor="start" fill="#000" textLength="60.0" lengthAdjust="spacingAndGlyphs">CRU3.24.01</text>
<path d="M96.4 80.3H112.9" stroke="#8a8a8a" stroke-width="2.6"/>
<text x="123.0" y="83.8" font-size="10.2" text-anchor="start" fill="#000" textLength="26.6" lengthAdjust="spacingAndGlyphs">BEST</text>
<rect x="189.5" y="45.9" width="20.5" height="6.8" fill="#708090" fill-opacity="0.28"/>
<path d="M191.3 49.3H208.2" stroke="#f4f4f4" stroke-width="2.6"/>
<rect x="189.5" y="61" width="20.5" height="6.6" fill="#0000ff" fill-opacity="0.25"/>
<path d="M191.3 64.2H208.2" stroke="#1a1aff" stroke-width="2.8"/>
<path d="M191.3 79.0H208.2" stroke="#ffa619" stroke-width="2.4"/>
<path d="M191.3 93.9H208.2" stroke="#ff2424" stroke-width="2.4"/>
<text x="218.2" y="52.9" font-size="10.2" text-anchor="start" fill="#000" textLength="18.0" lengthAdjust="spacingAndGlyphs">ALL</text>
<text x="218.2" y="67.8" font-size="10.2" text-anchor="start" fill="#000" textLength="14.5" lengthAdjust="spacingAndGlyphs">AA</text>
<text x="218.2" y="82.6" font-size="10.2" text-anchor="start" fill="#000" textLength="21.5" lengthAdjust="spacingAndGlyphs">NAT</text>
<text x="218.2" y="97.5" font-size="10.2" text-anchor="start" fill="#000" textLength="23.5" lengthAdjust="spacingAndGlyphs">GHG</text>
<rect x="499.0" y="42.0" width="98.8" height="32.4" rx="2.5" fill="#fff" fill-opacity="0.55" stroke="#a0a0a0" stroke-width="1"/>
<path d="M505.9 50.0H522.2" stroke="#4a4a4a" stroke-width="2.6"/>
<text x="532.2" y="54.0" font-size="10.2" text-anchor="start" fill="#000" textLength="60.2" lengthAdjust="spacingAndGlyphs">CRU3.24.01</text>
<path d="M505.9 65.0H522.2" stroke="#8a8a8a" stroke-width="2.6"/>
<text x="532.2" y="68.2" font-size="10.2" text-anchor="start" fill="#000" textLength="26.6" lengthAdjust="spacingAndGlyphs">BEST</text>
<rect x="180.5" y="331.5" width="97.5" height="29.7" rx="2.5" fill="#fff" fill-opacity="0.55" stroke="#a0a0a0" stroke-width="1"/>
<path d="M186.8 339.3H202.8" stroke="#8a8a8a" stroke-width="2.6"/>
<text x="212.8" y="343.1" font-size="10.2" text-anchor="start" fill="#000" textLength="29.4" lengthAdjust="spacingAndGlyphs">GPCC</text>
<path d="M186.8 354.6H202.8" stroke="#4a4a4a" stroke-width="2.6"/>
<text x="212.8" y="357.9" font-size="10.2" text-anchor="start" fill="#000" textLength="60.6" lengthAdjust="spacingAndGlyphs">CRU3.24.01</text>
<rect x="514.6" y="330.6" width="82.8" height="30.4" rx="2.5" fill="#fff" fill-opacity="0.55" stroke="#a0a0a0" stroke-width="1"/>
<path d="M520.9 338.5H537.2" stroke="#4a4a4a" stroke-width="2.6"/>
<text x="547.3" y="342.6" font-size="10.2" text-anchor="start" fill="#000" textLength="39.4" lengthAdjust="spacingAndGlyphs">ERSST4</text>
<path d="M520.9 353.5H537.2" stroke="#262626" stroke-width="2.6"/>
<text x="547.3" y="357.1" font-size="10.2" text-anchor="start" fill="#000" textLength="46.4" lengthAdjust="spacingAndGlyphs">HadSST3</text>
<text x="58.4" y="11.9" font-size="13.8" text-anchor="start" fill="#000" textLength="20.6" lengthAdjust="spacingAndGlyphs">(a)</text>
<text x="89.2" y="11.9" font-size="13.8" text-anchor="start" fill="#000" textLength="159.4" lengthAdjust="spacingAndGlyphs">European near-surface</text>
<text x="120.2" y="27.0" font-size="13.8" text-anchor="start" fill="#000" textLength="87.1" lengthAdjust="spacingAndGlyphs">temperature</text>
<text x="375.6" y="11.9" font-size="13.8" text-anchor="start" fill="#000" textLength="20.6" lengthAdjust="spacingAndGlyphs">(b)</text>
<text x="408.5" y="11.9" font-size="13.8" text-anchor="start" fill="#000" textLength="117.9" lengthAdjust="spacingAndGlyphs">European diurnal</text>
<text x="404.4" y="27.0" font-size="13.8" text-anchor="start" fill="#000" textLength="132.4" lengthAdjust="spacingAndGlyphs">temperature range</text>
<text x="58.3" y="300.5" font-size="13.8" text-anchor="start" fill="#000" textLength="20.6" lengthAdjust="spacingAndGlyphs">(c)</text>
<text x="90.0" y="300.5" font-size="13.8" text-anchor="start" fill="#000" textLength="151.4" lengthAdjust="spacingAndGlyphs">South Asian monsoon</text>
<text x="121.1" y="315.6" font-size="13.8" text-anchor="start" fill="#000" textLength="86.5" lengthAdjust="spacingAndGlyphs">precipitation</text>
<text x="375.2" y="300.5" font-size="13.8" text-anchor="start" fill="#000" textLength="20.6" lengthAdjust="spacingAndGlyphs">(d)</text>
<text x="409.5" y="300.5" font-size="13.8" text-anchor="start" fill="#000" textLength="146.4" lengthAdjust="spacingAndGlyphs">Atlantic Multidecadal</text>
<text x="436.0" y="315.6" font-size="13.8" text-anchor="start" fill="#000" textLength="69.8" lengthAdjust="spacingAndGlyphs">Variability</text>
<text x="9.0" y="210.4" font-size="13.0" text-anchor="start" fill="#000" textLength="126.5" lengthAdjust="spacingAndGlyphs" transform="rotate(-90 9.0 210.4)">air temperature [ K ]</text>
<text x="327.0" y="242.6" font-size="13.0" text-anchor="start" fill="#000" textLength="191.8" lengthAdjust="spacingAndGlyphs" transform="rotate(-90 327.0 242.6)">diurnal temperature range [ K ]</text>
<text x="9.0" y="510.2" font-size="13.0" text-anchor="start" fill="#000" textLength="149.5" lengthAdjust="spacingAndGlyphs" transform="rotate(-90 9.0 510.2)">precipitation [ mm/day ]</text>
<text x="327.5" y="464.2" font-size="13.0" text-anchor="start" fill="#000" textLength="57.2" lengthAdjust="spacingAndGlyphs" transform="rotate(-90 327.5 464.2)">AMV [ K ]</text></svg>
</body></html>
